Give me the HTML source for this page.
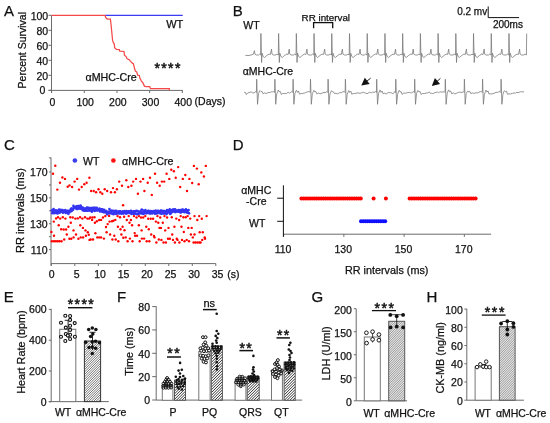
<!DOCTYPE html>
<html><head><meta charset="utf-8"><style>
html,body{margin:0;padding:0;background:#fff;width:550px;height:423px;overflow:hidden}
svg{display:block;will-change:transform}
text{font-family:"Liberation Sans",sans-serif;stroke:#111;stroke-width:0.25px}
</style></head><body>
<svg width="550" height="423" viewBox="0 0 550 423" font-family="Liberation Sans, sans-serif">

<rect width="550" height="423" fill="#fff"/>
<text x="4" y="15.8" font-size="15" fill="#111" >A</text>
<line x1="51.5" y1="15.3" x2="51.5" y2="92.8" stroke="#6b6b6b" stroke-width="1"/>
<line x1="48.5" y1="15.3" x2="51.5" y2="15.3" stroke="#6b6b6b" stroke-width="1"/>
<text x="48.2" y="19.8" font-size="10.5" text-anchor="end" fill="#111" >100</text>
<line x1="48.5" y1="30.3" x2="51.5" y2="30.3" stroke="#6b6b6b" stroke-width="1"/>
<text x="48.2" y="34.8" font-size="10.5" text-anchor="end" fill="#111" >80</text>
<line x1="48.5" y1="45.3" x2="51.5" y2="45.3" stroke="#6b6b6b" stroke-width="1"/>
<text x="48.2" y="49.8" font-size="10.5" text-anchor="end" fill="#111" >60</text>
<line x1="48.5" y1="60.3" x2="51.5" y2="60.3" stroke="#6b6b6b" stroke-width="1"/>
<text x="48.2" y="64.8" font-size="10.5" text-anchor="end" fill="#111" >40</text>
<line x1="48.5" y1="75.3" x2="51.5" y2="75.3" stroke="#6b6b6b" stroke-width="1"/>
<text x="48.2" y="79.8" font-size="10.5" text-anchor="end" fill="#111" >20</text>
<line x1="48.5" y1="90.3" x2="51.5" y2="90.3" stroke="#6b6b6b" stroke-width="1"/>
<text x="45.3" y="93.9" font-size="10.5" text-anchor="end" fill="#111" >0</text>
<line x1="48.5" y1="90.4" x2="182.8" y2="90.4" stroke="#6b6b6b" stroke-width="1"/>
<line x1="51.6" y1="90.4" x2="51.6" y2="93" stroke="#6b6b6b" stroke-width="1"/>
<text x="52.5" y="105.5" font-size="10.5" text-anchor="middle" fill="#111" >0</text>
<line x1="84.28" y1="90.4" x2="84.28" y2="93" stroke="#6b6b6b" stroke-width="1"/>
<text x="85.18" y="105.5" font-size="10.5" text-anchor="middle" fill="#111" >100</text>
<line x1="116.96" y1="90.4" x2="116.96" y2="93" stroke="#6b6b6b" stroke-width="1"/>
<text x="117.86" y="105.5" font-size="10.5" text-anchor="middle" fill="#111" >200</text>
<line x1="149.64" y1="90.4" x2="149.64" y2="93" stroke="#6b6b6b" stroke-width="1"/>
<text x="150.54" y="105.5" font-size="10.5" text-anchor="middle" fill="#111" >300</text>
<line x1="182.32" y1="90.4" x2="182.32" y2="93" stroke="#6b6b6b" stroke-width="1"/>
<text x="183.22" y="105.5" font-size="10.5" text-anchor="middle" fill="#111" >400</text>
<text x="194.6" y="104.9" font-size="10.5" fill="#111" >(Days)</text>
<text transform="translate(26.2,50.2) rotate(-90)" font-size="10.5" text-anchor="middle" fill="#111">Percent Survival</text>
<line x1="105.2" y1="15.35" x2="182.7" y2="15.35" stroke="#3b3bf5" stroke-width="1.2"/>
<path d="M51.6,15.35 L105,15.35 L105.4,16.8 L106.6,18.7 L108,19.1 L110.4,19.1 L110.9,23.3 L112.6,40.4 L113.3,42.4 L114.4,44.5 L114.6,47.7 L116.5,49.5 L119.3,49.7 L119.8,51.2 L124,51.5 L124.5,55.1 L126.1,56.6 L127.1,58.7 L129.3,59.8 L130.4,61.1 L132.6,63.4 L133.4,63.8 L134.5,68.3 L135.3,71 L136.8,72.1 L137.6,75.1 L139.4,75.5 L139.8,78.1 L141.3,80.8 L142.8,82.7 L144.4,86.1 L145.9,86.5 L149.7,86.5 L150.4,88.5 L169.4,88.5 L169.4,90.2" stroke="#f54848" stroke-width="1.25" fill="none" />
<text x="166.2" y="27.5" font-size="11" fill="#111" >WT</text>
<text x="85.5" y="80.7" font-size="10.7" fill="#111" >αMHC-Cre</text>
<text x="154.4" y="73.1" font-size="14" fill="#111" letter-spacing="1.4" style="stroke-width:0.5px">****</text>
<text x="232.8" y="15.9" font-size="15" fill="#111" >B</text>
<text x="243.3" y="28.8" font-size="10.5" fill="#111" >WT</text>
<text x="301.6" y="20.5" font-size="9.8" fill="#111" >RR interval</text>
<path d="M313.6,28.2 V22.7 H332.7 V28.2" stroke="#111" stroke-width="1.3" fill="none" />
<text x="457.2" y="14.5" font-size="10" fill="#111" >0.2 mv</text>
<path d="M488.2,6.4 V17.6 H519.1" stroke="#111" stroke-width="1" fill="none" />
<text x="492.9" y="28.2" font-size="10" fill="#111" >200ms</text>
<text x="242.8" y="74.9" font-size="10.5" fill="#111" >αMHC-Cre</text>
<path d="M245.4,55.3 L248,55.6 L251,55 L253.3,54.3 L254.4,50.6 L255,54.3 L256.5,55 L258.5,55 L259.4,54.2 L260.6,55 L260.9,33.5 L261.6,62.5 L262.1,53.2 L263.2,56.5 L264.5,57.5 L266.9,55.4 L269,54.1 L270.4,54.5 L271.5,49.1 L272,54.1 L273.5,55 L275.8,55 L277.1,54.1 L277.12,54.2 L278.32,55 L278.62,33.5 L279.32,62.5 L279.82,53.2 L280.92,56.5 L282.22,57.5 L284.62,55.4 L286.72,54.1 L288.12,54.5 L289.22,49.1 L289.72,54.1 L291.22,55 L293.52,55 L294.82,54.1 L294.84,54.2 L296.04,55 L296.34,33.5 L297.04,62.5 L297.54,53.2 L298.64,56.5 L299.94,57.5 L302.34,55.4 L304.44,54.1 L305.84,54.5 L306.94,49.1 L307.44,54.1 L308.94,55 L311.24,55 L312.54,54.1 L312.56,54.2 L313.76,55 L314.06,33.5 L314.76,62.5 L315.26,53.2 L316.36,56.5 L317.66,57.5 L320.06,55.4 L322.16,54.1 L323.56,54.5 L324.66,49.1 L325.16,54.1 L326.66,55 L328.96,55 L330.26,54.1 L330.28,54.2 L331.48,55 L331.78,33.5 L332.48,62.5 L332.98,53.2 L334.08,56.5 L335.38,57.5 L337.78,55.4 L339.88,54.1 L341.28,54.5 L342.38,49.1 L342.88,54.1 L344.38,55 L346.68,55 L347.98,54.1 L348,54.2 L349.2,55 L349.5,33.5 L350.2,62.5 L350.7,53.2 L351.8,56.5 L353.1,57.5 L355.5,55.4 L357.6,54.1 L359,54.5 L360.1,49.1 L360.6,54.1 L362.1,55 L364.4,55 L365.7,54.1 L365.72,54.2 L366.92,55 L367.22,33.5 L367.92,62.5 L368.42,53.2 L369.52,56.5 L370.82,57.5 L373.22,55.4 L375.32,54.1 L376.72,54.5 L377.82,49.1 L378.32,54.1 L379.82,55 L382.12,55 L383.42,54.1 L383.44,54.2 L384.64,55 L384.94,33.5 L385.64,62.5 L386.14,53.2 L387.24,56.5 L388.54,57.5 L390.94,55.4 L393.04,54.1 L394.44,54.5 L395.54,49.1 L396.04,54.1 L397.54,55 L399.84,55 L401.14,54.1 L401.16,54.2 L402.36,55 L402.66,33.5 L403.36,62.5 L403.86,53.2 L404.96,56.5 L406.26,57.5 L408.66,55.4 L410.76,54.1 L412.16,54.5 L413.26,49.1 L413.76,54.1 L415.26,55 L417.56,55 L418.86,54.1 L418.88,54.2 L420.08,55 L420.38,33.5 L421.08,62.5 L421.58,53.2 L422.68,56.5 L423.98,57.5 L426.38,55.4 L428.48,54.1 L429.88,54.5 L430.98,49.1 L431.48,54.1 L432.98,55 L435.28,55 L436.58,54.1 L436.6,54.2 L437.8,55 L438.1,33.5 L438.8,62.5 L439.3,53.2 L440.4,56.5 L441.7,57.5 L444.1,55.4 L446.2,54.1 L447.6,54.5 L448.7,49.1 L449.2,54.1 L450.7,55 L453,55 L454.3,54.1 L454.32,54.2 L455.52,55 L455.82,33.5 L456.52,62.5 L457.02,53.2 L458.12,56.5 L459.42,57.5 L461.82,55.4 L463.92,54.1 L465.32,54.5 L466.42,49.1 L466.92,54.1 L468.42,55 L470.72,55 L472.02,54.1 L472.04,54.2 L473.24,55 L473.54,33.5 L474.24,62.5 L474.74,53.2 L475.84,56.5 L477.14,57.5 L479.54,55.4 L481.64,54.1 L483.04,54.5 L484.14,49.1 L484.64,54.1 L486.14,55 L488.44,55 L489.74,54.1 L489.76,54.2 L490.96,55 L491.26,33.5 L491.96,62.5 L492.46,53.2 L493.56,56.5 L494.86,57.5 L497.26,55.4 L499.36,54.1 L500.76,54.5 L501.86,49.1 L502.36,54.1 L503.86,55 L506.16,55 L507.46,54.1 L507.48,54.2 L508.68,55 L508.98,33.5 L509.68,62.5 L510.18,53.2 L511.28,56.5 L512.58,57.5 L514.98,55.4 L517.08,54.1 L518.48,54.5 L519.58,49.1 L520.08,54.1 L521.58,55 L523.88,55 L525.18,54.1 L525.2,54.2 L526.4,55 L526.7,33.5" stroke="#7a7a7a" stroke-width="0.8" fill="none" stroke-linejoin="round"/>
<path d="M244.1,92.4 L245.3,92.3 L246.3,94.6 L247.5,93 L249,92.6 L251,91.8 L252.5,92.8 L254,92.9 L255.5,91.7 L256.4,92.5 L256.7,79.2 L257.5,104.3 L258.5,93.82 L259.6,90.95 L260.1,90.55 L261.1,91.67 L262.1,91.44 L263.1,93.87 L264.7,92.86 L266.2,93.61 L268.2,92.54 L270.2,92.53 L271.3,91.84 L272.45,91.88 L273.7,91.6 L274.6,92.5 L274.9,79.2 L275.7,104.3 L276.7,93.92 L277.8,91.63 L278.3,90.02 L279.3,91.82 L280.3,91.53 L281.3,94.45 L282.9,93.38 L284.4,93.5 L286.4,93.48 L288.4,92.15 L289.5,93.42 L290.65,92.28 L291.9,91.6 L292.8,92.5 L293.1,79.2 L293.9,104.3 L294.9,93.64 L296,90.92 L296.5,90.21 L297.5,92.42 L298.5,91.08 L299.5,94.08 L301.1,93.44 L302.6,93.47 L304.6,93.05 L306.6,92.16 L307.7,91.82 L309.3,91.6 L310.2,92.5 L310.5,79.2 L311.3,104.3 L312.3,93.71 L313.4,91.48 L313.9,90.33 L314.9,91.91 L315.9,91.49 L316.9,93.95 L318.5,93.1 L320,93.89 L322,93.2 L324,92.34 L325.1,92.85 L326.9,91.6 L327.8,92.5 L328.1,79.2 L328.9,104.3 L329.9,94.03 L331,91.68 L331.5,90.63 L332.5,91.89 L333.5,91.88 L334.5,93.62 L336.1,93.22 L337.6,93.86 L339.6,92.65 L341.6,92.59 L342.7,91.78 L344.2,91.6 L345.1,92.5 L345.4,79.2 L346.2,104.3 L347.2,94.17 L348.3,91.56 L348.8,90.47 L349.8,92.48 L350.8,91.21 L351.8,94.2 L353.4,93.39 L354.9,93.68 L356.9,92.96 L358.9,92.94 L360,93.59 L361.15,92.65 L362.3,93.03 L363.45,91.82 L364.6,93.1 L365.75,92.99 L366.9,93.69 L368.05,93.34 L369.2,92.27 L370.35,92.47 L371.5,93.04 L372.65,91.75 L373.8,92.62 L375.5,91.6 L376.4,92.5 L376.7,79.2 L377.5,104.3 L378.5,93.67 L379.6,90.92 L380.1,89.96 L381.1,92.37 L382.1,91.03 L383.1,93.75 L384.7,93.19 L386.2,93.97 L388.2,92.58 L390.2,92.55 L391.3,92.8 L392.45,93.47 L393.6,93.34 L394.6,91.6 L395.5,92.5 L395.8,79.2 L396.6,104.3 L397.6,94.36 L398.7,91.08 L399.2,90.32 L400.2,91.96 L401.2,91.78 L402.2,94.46 L403.8,92.95 L405.3,93.28 L407.3,92.73 L409.3,92.33 L410.4,92.67 L411.55,92.88 L413.5,91.6 L414.4,92.5 L414.7,79.2 L415.5,104.3 L416.5,93.76 L417.6,90.8 L418.1,90.32 L419.1,91.97 L420.1,91.47 L421.1,94.45 L422.7,93.49 L424.2,93.62 L426.2,93.12 L428.2,92.78 L429.3,91.81 L430.45,93.5 L431.6,93.26 L432.75,93.45 L433.9,93.3 L435.05,92.48 L436.2,92.5 L437.35,91.91 L438.5,92.97 L439.65,91.82 L440.8,91.83 L441.95,92.12 L443.1,92.02 L444.1,91.6 L445,92.5 L445.3,79.2 L446.1,104.3 L447.1,93.84 L448.2,90.85 L448.7,89.9 L449.7,91.75 L450.7,91 L451.7,93.86 L453.3,92.83 L454.8,93.97 L456.8,93.11 L458.8,92.25 L459.9,92.2 L461.05,92.39 L462.2,92.43 L463.2,91.6 L464.1,92.5 L464.4,79.2 L465.2,104.3 L466.2,93.62 L467.3,91.65 L467.8,90.89 L468.8,92.07 L469.8,91.38 L470.8,93.59 L472.4,92.9 L473.9,93.44 L475.9,92.76 L477.9,92.93 L479,92.02 L480.15,91.75 L481.4,91.6 L482.3,92.5 L482.6,79.2 L483.4,104.3 L484.4,94.45 L485.5,91.33 L486,90.05 L487,92.14 L488,90.93 L489,94.03 L490.6,93.78 L492.1,93.96 L494.1,93.2 L496.1,92.36 L497.2,92.43 L498.35,92.03 L499.9,91.6 L500.8,92.5 L501.1,79.2 L501.9,104.3 L502.9,94.27 L504,91.33 L504.5,90.68 L505.5,91.93 L506.5,91.12 L507.5,94.31 L509.1,93.78 L510.6,93.95 L512.6,93.31 L514.6,92.92 L515.7,93.18 L516.85,92.15 L518,92.74 L519.15,92.41 L520.3,91.76 L521.45,91.76 L524,91.9" stroke="#7a7a7a" stroke-width="0.8" fill="none" stroke-linejoin="round"/>
<line x1="370.6" y1="78.2" x2="365.95" y2="81.9" stroke="#222" stroke-width="1.0"/>
<path d="M361.3,85.6 L369.68,83.92 L364.82,77.82 Z" fill="#111"/>
<line x1="440.4" y1="78.4" x2="436.1" y2="82.2" stroke="#222" stroke-width="1.0"/>
<path d="M431.8,86 L440.08,83.89 L434.91,78.04 Z" fill="#111"/>
<text x="3.9" y="149.6" font-size="15" fill="#111" >C</text>
<line x1="51" y1="157.5" x2="51" y2="265.5" stroke="#6b6b6b" stroke-width="1"/>
<line x1="49" y1="157.9" x2="51" y2="157.9" stroke="#6b6b6b" stroke-width="1"/>
<line x1="49" y1="172" x2="51" y2="172" stroke="#6b6b6b" stroke-width="1"/>
<line x1="49" y1="184.94" x2="51" y2="184.94" stroke="#6b6b6b" stroke-width="1"/>
<line x1="49" y1="197.87" x2="51" y2="197.87" stroke="#6b6b6b" stroke-width="1"/>
<line x1="49" y1="210.8" x2="51" y2="210.8" stroke="#6b6b6b" stroke-width="1"/>
<line x1="49" y1="223.73" x2="51" y2="223.73" stroke="#6b6b6b" stroke-width="1"/>
<line x1="49" y1="236.67" x2="51" y2="236.67" stroke="#6b6b6b" stroke-width="1"/>
<line x1="49" y1="249.6" x2="51" y2="249.6" stroke="#6b6b6b" stroke-width="1"/>
<text x="47.6" y="176.4" font-size="10.5" text-anchor="end" fill="#111" >170</text>
<text x="47.6" y="202.27" font-size="10.5" text-anchor="end" fill="#111" >150</text>
<text x="47.6" y="228.13" font-size="10.5" text-anchor="end" fill="#111" >130</text>
<text x="47.6" y="254" font-size="10.5" text-anchor="end" fill="#111" >110</text>
<line x1="51" y1="263.6" x2="215.8" y2="263.6" stroke="#6b6b6b" stroke-width="1"/>
<line x1="51.3" y1="263.6" x2="51.3" y2="266" stroke="#6b6b6b" stroke-width="1"/>
<text x="51.6" y="277.6" font-size="10.5" text-anchor="middle" fill="#111" >0</text>
<line x1="74.8" y1="263.6" x2="74.8" y2="266" stroke="#6b6b6b" stroke-width="1"/>
<text x="76.6" y="277.6" font-size="10.5" text-anchor="middle" fill="#111" >5</text>
<line x1="98.3" y1="263.6" x2="98.3" y2="266" stroke="#6b6b6b" stroke-width="1"/>
<text x="100.1" y="277.6" font-size="10.5" text-anchor="middle" fill="#111" >10</text>
<line x1="121.8" y1="263.6" x2="121.8" y2="266" stroke="#6b6b6b" stroke-width="1"/>
<text x="123.6" y="277.6" font-size="10.5" text-anchor="middle" fill="#111" >15</text>
<line x1="145.3" y1="263.6" x2="145.3" y2="266" stroke="#6b6b6b" stroke-width="1"/>
<text x="147.1" y="277.6" font-size="10.5" text-anchor="middle" fill="#111" >20</text>
<line x1="168.8" y1="263.6" x2="168.8" y2="266" stroke="#6b6b6b" stroke-width="1"/>
<text x="170.6" y="277.6" font-size="10.5" text-anchor="middle" fill="#111" >25</text>
<line x1="192.3" y1="263.6" x2="192.3" y2="266" stroke="#6b6b6b" stroke-width="1"/>
<text x="194.1" y="277.6" font-size="10.5" text-anchor="middle" fill="#111" >30</text>
<line x1="215.8" y1="263.6" x2="215.8" y2="266" stroke="#6b6b6b" stroke-width="1"/>
<text x="217.6" y="277.6" font-size="10.5" text-anchor="middle" fill="#111" >35</text>
<text x="227.3" y="277.6" font-size="10.5" fill="#111" >(s)</text>
<text transform="translate(24,210.6) rotate(-90)" font-size="11" text-anchor="middle" fill="#111">RR intervals (ms)</text>
<circle cx="74.9" cy="160.5" r="2.3" fill="#3c3cf0"/>
<text x="83" y="164.6" font-size="10.5" fill="#111" >WT</text>
<circle cx="113.4" cy="160.5" r="2.3" fill="#ff1010"/>
<text x="122.1" y="164.6" font-size="10.7" fill="#111" >αMHC-Cre</text>
<circle cx="51.8" cy="210.5" r="1.3" fill="#3535f2"/>
<circle cx="52.25" cy="213.13" r="1.3" fill="#3535f2"/>
<circle cx="52.7" cy="209.98" r="1.3" fill="#3535f2"/>
<circle cx="53.15" cy="210.96" r="1.3" fill="#3535f2"/>
<circle cx="53.6" cy="209.04" r="1.3" fill="#3535f2"/>
<circle cx="54.05" cy="213.14" r="1.3" fill="#3535f2"/>
<circle cx="54.5" cy="212.34" r="1.3" fill="#3535f2"/>
<circle cx="54.95" cy="212.47" r="1.3" fill="#3535f2"/>
<circle cx="55.4" cy="210.27" r="1.3" fill="#3535f2"/>
<circle cx="55.85" cy="212.97" r="1.3" fill="#3535f2"/>
<circle cx="56.3" cy="210.67" r="1.3" fill="#3535f2"/>
<circle cx="56.75" cy="213.06" r="1.3" fill="#3535f2"/>
<circle cx="57.2" cy="210.88" r="1.3" fill="#3535f2"/>
<circle cx="57.65" cy="213.54" r="1.3" fill="#3535f2"/>
<circle cx="58.1" cy="211.69" r="1.3" fill="#3535f2"/>
<circle cx="58.55" cy="211.81" r="1.3" fill="#3535f2"/>
<circle cx="59" cy="209.59" r="1.3" fill="#3535f2"/>
<circle cx="59.45" cy="212.73" r="1.3" fill="#3535f2"/>
<circle cx="59.9" cy="210.69" r="1.3" fill="#3535f2"/>
<circle cx="60.35" cy="212.32" r="1.3" fill="#3535f2"/>
<circle cx="60.8" cy="209.78" r="1.3" fill="#3535f2"/>
<circle cx="61.25" cy="211.3" r="1.3" fill="#3535f2"/>
<circle cx="61.7" cy="210.83" r="1.3" fill="#3535f2"/>
<circle cx="62.15" cy="211.46" r="1.3" fill="#3535f2"/>
<circle cx="62.6" cy="210.17" r="1.3" fill="#3535f2"/>
<circle cx="63.05" cy="212.66" r="1.3" fill="#3535f2"/>
<circle cx="63.5" cy="210.75" r="1.3" fill="#3535f2"/>
<circle cx="63.95" cy="211.99" r="1.3" fill="#3535f2"/>
<circle cx="64.4" cy="211.19" r="1.3" fill="#3535f2"/>
<circle cx="64.85" cy="210.83" r="1.3" fill="#3535f2"/>
<circle cx="65.3" cy="210.04" r="1.3" fill="#3535f2"/>
<circle cx="65.75" cy="213.03" r="1.3" fill="#3535f2"/>
<circle cx="66.2" cy="211.66" r="1.3" fill="#3535f2"/>
<circle cx="66.65" cy="212.23" r="1.3" fill="#3535f2"/>
<circle cx="67.1" cy="210.78" r="1.3" fill="#3535f2"/>
<circle cx="67.55" cy="212.92" r="1.3" fill="#3535f2"/>
<circle cx="68" cy="211.48" r="1.3" fill="#3535f2"/>
<circle cx="68.45" cy="213.83" r="1.3" fill="#3535f2"/>
<circle cx="68.9" cy="210.74" r="1.3" fill="#3535f2"/>
<circle cx="69.35" cy="212.23" r="1.3" fill="#3535f2"/>
<circle cx="69.8" cy="211.51" r="1.3" fill="#3535f2"/>
<circle cx="70.25" cy="210.86" r="1.3" fill="#3535f2"/>
<circle cx="70.7" cy="209.4" r="1.3" fill="#3535f2"/>
<circle cx="71.15" cy="211.22" r="1.3" fill="#3535f2"/>
<circle cx="71.6" cy="208.33" r="1.3" fill="#3535f2"/>
<circle cx="72.05" cy="210.57" r="1.3" fill="#3535f2"/>
<circle cx="72.5" cy="209.45" r="1.3" fill="#3535f2"/>
<circle cx="72.95" cy="209.77" r="1.3" fill="#3535f2"/>
<circle cx="73.4" cy="205.9" r="1.3" fill="#3535f2"/>
<circle cx="73.85" cy="207.71" r="1.3" fill="#3535f2"/>
<circle cx="74.3" cy="207.08" r="1.3" fill="#3535f2"/>
<circle cx="74.75" cy="208.1" r="1.3" fill="#3535f2"/>
<circle cx="75.2" cy="207.31" r="1.3" fill="#3535f2"/>
<circle cx="75.65" cy="207.46" r="1.3" fill="#3535f2"/>
<circle cx="76.1" cy="206.53" r="1.3" fill="#3535f2"/>
<circle cx="76.55" cy="208.92" r="1.3" fill="#3535f2"/>
<circle cx="77" cy="206.26" r="1.3" fill="#3535f2"/>
<circle cx="77.45" cy="208.9" r="1.3" fill="#3535f2"/>
<circle cx="77.9" cy="205.94" r="1.3" fill="#3535f2"/>
<circle cx="78.35" cy="208.12" r="1.3" fill="#3535f2"/>
<circle cx="78.8" cy="206.08" r="1.3" fill="#3535f2"/>
<circle cx="79.25" cy="208.58" r="1.3" fill="#3535f2"/>
<circle cx="79.7" cy="206.95" r="1.3" fill="#3535f2"/>
<circle cx="80.15" cy="208.05" r="1.3" fill="#3535f2"/>
<circle cx="80.6" cy="205.51" r="1.3" fill="#3535f2"/>
<circle cx="81.05" cy="208.64" r="1.3" fill="#3535f2"/>
<circle cx="81.5" cy="207" r="1.3" fill="#3535f2"/>
<circle cx="81.95" cy="207.99" r="1.3" fill="#3535f2"/>
<circle cx="82.4" cy="209.32" r="1.3" fill="#3535f2"/>
<circle cx="82.85" cy="210.19" r="1.3" fill="#3535f2"/>
<circle cx="83.3" cy="207.76" r="1.3" fill="#3535f2"/>
<circle cx="83.75" cy="210.43" r="1.3" fill="#3535f2"/>
<circle cx="84.2" cy="209.35" r="1.3" fill="#3535f2"/>
<circle cx="84.65" cy="210.69" r="1.3" fill="#3535f2"/>
<circle cx="85.1" cy="208.63" r="1.3" fill="#3535f2"/>
<circle cx="85.55" cy="210.66" r="1.3" fill="#3535f2"/>
<circle cx="86" cy="208.73" r="1.3" fill="#3535f2"/>
<circle cx="86.45" cy="210.19" r="1.3" fill="#3535f2"/>
<circle cx="86.9" cy="207.49" r="1.3" fill="#3535f2"/>
<circle cx="87.35" cy="210.79" r="1.3" fill="#3535f2"/>
<circle cx="87.8" cy="208.02" r="1.3" fill="#3535f2"/>
<circle cx="88.25" cy="210.38" r="1.3" fill="#3535f2"/>
<circle cx="88.7" cy="207.71" r="1.3" fill="#3535f2"/>
<circle cx="89.15" cy="210.5" r="1.3" fill="#3535f2"/>
<circle cx="89.6" cy="208.67" r="1.3" fill="#3535f2"/>
<circle cx="90.05" cy="210.28" r="1.3" fill="#3535f2"/>
<circle cx="90.5" cy="208.11" r="1.3" fill="#3535f2"/>
<circle cx="90.95" cy="210.4" r="1.3" fill="#3535f2"/>
<circle cx="91.4" cy="208.4" r="1.3" fill="#3535f2"/>
<circle cx="91.85" cy="211.79" r="1.3" fill="#3535f2"/>
<circle cx="92.3" cy="207.7" r="1.3" fill="#3535f2"/>
<circle cx="92.75" cy="210.56" r="1.3" fill="#3535f2"/>
<circle cx="93.2" cy="208.7" r="1.3" fill="#3535f2"/>
<circle cx="93.65" cy="209.06" r="1.3" fill="#3535f2"/>
<circle cx="94.1" cy="207.7" r="1.3" fill="#3535f2"/>
<circle cx="94.55" cy="210.94" r="1.3" fill="#3535f2"/>
<circle cx="95" cy="207.76" r="1.3" fill="#3535f2"/>
<circle cx="95.45" cy="210.57" r="1.3" fill="#3535f2"/>
<circle cx="95.9" cy="208.33" r="1.3" fill="#3535f2"/>
<circle cx="96.35" cy="209.88" r="1.3" fill="#3535f2"/>
<circle cx="96.8" cy="207.82" r="1.3" fill="#3535f2"/>
<circle cx="97.25" cy="210.43" r="1.3" fill="#3535f2"/>
<circle cx="97.7" cy="209.61" r="1.3" fill="#3535f2"/>
<circle cx="98.15" cy="210.21" r="1.3" fill="#3535f2"/>
<circle cx="98.6" cy="209.79" r="1.3" fill="#3535f2"/>
<circle cx="99.05" cy="209.43" r="1.3" fill="#3535f2"/>
<circle cx="99.5" cy="208.55" r="1.3" fill="#3535f2"/>
<circle cx="99.95" cy="211.49" r="1.3" fill="#3535f2"/>
<circle cx="100.4" cy="210.03" r="1.3" fill="#3535f2"/>
<circle cx="100.85" cy="210.3" r="1.3" fill="#3535f2"/>
<circle cx="101.3" cy="209.39" r="1.3" fill="#3535f2"/>
<circle cx="101.75" cy="211.43" r="1.3" fill="#3535f2"/>
<circle cx="102.2" cy="209.29" r="1.3" fill="#3535f2"/>
<circle cx="102.65" cy="211.64" r="1.3" fill="#3535f2"/>
<circle cx="103.1" cy="209.95" r="1.3" fill="#3535f2"/>
<circle cx="103.55" cy="212.21" r="1.3" fill="#3535f2"/>
<circle cx="104" cy="209.73" r="1.3" fill="#3535f2"/>
<circle cx="104.45" cy="211.25" r="1.3" fill="#3535f2"/>
<circle cx="104.9" cy="211.03" r="1.3" fill="#3535f2"/>
<circle cx="105.35" cy="212.46" r="1.3" fill="#3535f2"/>
<circle cx="105.8" cy="210.88" r="1.3" fill="#3535f2"/>
<circle cx="106.25" cy="212.09" r="1.3" fill="#3535f2"/>
<circle cx="106.7" cy="212.1" r="1.3" fill="#3535f2"/>
<circle cx="107.15" cy="214.33" r="1.3" fill="#3535f2"/>
<circle cx="107.6" cy="211.68" r="1.3" fill="#3535f2"/>
<circle cx="108.05" cy="213.1" r="1.3" fill="#3535f2"/>
<circle cx="108.5" cy="211.87" r="1.3" fill="#3535f2"/>
<circle cx="108.95" cy="212.99" r="1.3" fill="#3535f2"/>
<circle cx="109.4" cy="209.09" r="1.3" fill="#3535f2"/>
<circle cx="109.85" cy="213.37" r="1.3" fill="#3535f2"/>
<circle cx="110.3" cy="211.41" r="1.3" fill="#3535f2"/>
<circle cx="110.75" cy="212.84" r="1.3" fill="#3535f2"/>
<circle cx="111.2" cy="210.43" r="1.3" fill="#3535f2"/>
<circle cx="111.65" cy="213.55" r="1.3" fill="#3535f2"/>
<circle cx="112.1" cy="210.95" r="1.3" fill="#3535f2"/>
<circle cx="112.55" cy="213.59" r="1.3" fill="#3535f2"/>
<circle cx="113" cy="210.73" r="1.3" fill="#3535f2"/>
<circle cx="113.45" cy="214.22" r="1.3" fill="#3535f2"/>
<circle cx="113.9" cy="212.08" r="1.3" fill="#3535f2"/>
<circle cx="114.35" cy="213.31" r="1.3" fill="#3535f2"/>
<circle cx="114.8" cy="211.08" r="1.3" fill="#3535f2"/>
<circle cx="115.25" cy="213.25" r="1.3" fill="#3535f2"/>
<circle cx="115.7" cy="210.72" r="1.3" fill="#3535f2"/>
<circle cx="116.15" cy="214.05" r="1.3" fill="#3535f2"/>
<circle cx="116.6" cy="210.95" r="1.3" fill="#3535f2"/>
<circle cx="117.05" cy="213.18" r="1.3" fill="#3535f2"/>
<circle cx="117.5" cy="212.43" r="1.3" fill="#3535f2"/>
<circle cx="117.95" cy="213.08" r="1.3" fill="#3535f2"/>
<circle cx="118.4" cy="211.52" r="1.3" fill="#3535f2"/>
<circle cx="118.85" cy="213.14" r="1.3" fill="#3535f2"/>
<circle cx="119.3" cy="211.18" r="1.3" fill="#3535f2"/>
<circle cx="119.75" cy="213.4" r="1.3" fill="#3535f2"/>
<circle cx="120.2" cy="211.3" r="1.3" fill="#3535f2"/>
<circle cx="120.65" cy="212.65" r="1.3" fill="#3535f2"/>
<circle cx="121.1" cy="211.7" r="1.3" fill="#3535f2"/>
<circle cx="121.55" cy="213.73" r="1.3" fill="#3535f2"/>
<circle cx="122" cy="212.3" r="1.3" fill="#3535f2"/>
<circle cx="122.45" cy="212.52" r="1.3" fill="#3535f2"/>
<circle cx="122.9" cy="211.18" r="1.3" fill="#3535f2"/>
<circle cx="123.35" cy="213.6" r="1.3" fill="#3535f2"/>
<circle cx="123.8" cy="212" r="1.3" fill="#3535f2"/>
<circle cx="124.25" cy="212.76" r="1.3" fill="#3535f2"/>
<circle cx="124.7" cy="211.11" r="1.3" fill="#3535f2"/>
<circle cx="125.15" cy="212.91" r="1.3" fill="#3535f2"/>
<circle cx="125.6" cy="212.2" r="1.3" fill="#3535f2"/>
<circle cx="126.05" cy="213.58" r="1.3" fill="#3535f2"/>
<circle cx="126.5" cy="210.96" r="1.3" fill="#3535f2"/>
<circle cx="126.95" cy="213.32" r="1.3" fill="#3535f2"/>
<circle cx="127.4" cy="212.12" r="1.3" fill="#3535f2"/>
<circle cx="127.85" cy="212.82" r="1.3" fill="#3535f2"/>
<circle cx="128.3" cy="211.29" r="1.3" fill="#3535f2"/>
<circle cx="128.75" cy="212.92" r="1.3" fill="#3535f2"/>
<circle cx="129.2" cy="211.36" r="1.3" fill="#3535f2"/>
<circle cx="129.65" cy="213" r="1.3" fill="#3535f2"/>
<circle cx="130.1" cy="211.7" r="1.3" fill="#3535f2"/>
<circle cx="130.55" cy="212.62" r="1.3" fill="#3535f2"/>
<circle cx="131" cy="210.73" r="1.3" fill="#3535f2"/>
<circle cx="131.45" cy="213.95" r="1.3" fill="#3535f2"/>
<circle cx="131.9" cy="211.7" r="1.3" fill="#3535f2"/>
<circle cx="132.35" cy="212.95" r="1.3" fill="#3535f2"/>
<circle cx="132.8" cy="211.79" r="1.3" fill="#3535f2"/>
<circle cx="133.25" cy="213.82" r="1.3" fill="#3535f2"/>
<circle cx="133.7" cy="211.22" r="1.3" fill="#3535f2"/>
<circle cx="134.15" cy="213.54" r="1.3" fill="#3535f2"/>
<circle cx="134.6" cy="211.32" r="1.3" fill="#3535f2"/>
<circle cx="135.05" cy="213.39" r="1.3" fill="#3535f2"/>
<circle cx="135.5" cy="211.38" r="1.3" fill="#3535f2"/>
<circle cx="135.95" cy="213.78" r="1.3" fill="#3535f2"/>
<circle cx="136.4" cy="210.8" r="1.3" fill="#3535f2"/>
<circle cx="136.85" cy="214.31" r="1.3" fill="#3535f2"/>
<circle cx="137.3" cy="211" r="1.3" fill="#3535f2"/>
<circle cx="137.75" cy="214" r="1.3" fill="#3535f2"/>
<circle cx="138.2" cy="211.48" r="1.3" fill="#3535f2"/>
<circle cx="138.65" cy="213.78" r="1.3" fill="#3535f2"/>
<circle cx="139.1" cy="211.73" r="1.3" fill="#3535f2"/>
<circle cx="139.55" cy="213.26" r="1.3" fill="#3535f2"/>
<circle cx="140" cy="212.33" r="1.3" fill="#3535f2"/>
<circle cx="140.45" cy="213.31" r="1.3" fill="#3535f2"/>
<circle cx="140.9" cy="210.77" r="1.3" fill="#3535f2"/>
<circle cx="141.35" cy="213.06" r="1.3" fill="#3535f2"/>
<circle cx="141.8" cy="209.59" r="1.3" fill="#3535f2"/>
<circle cx="142.25" cy="213.46" r="1.3" fill="#3535f2"/>
<circle cx="142.7" cy="212.22" r="1.3" fill="#3535f2"/>
<circle cx="143.15" cy="214" r="1.3" fill="#3535f2"/>
<circle cx="143.6" cy="210.45" r="1.3" fill="#3535f2"/>
<circle cx="144.05" cy="213.54" r="1.3" fill="#3535f2"/>
<circle cx="144.5" cy="211.55" r="1.3" fill="#3535f2"/>
<circle cx="144.95" cy="212.6" r="1.3" fill="#3535f2"/>
<circle cx="145.4" cy="210.13" r="1.3" fill="#3535f2"/>
<circle cx="145.85" cy="213.16" r="1.3" fill="#3535f2"/>
<circle cx="146.3" cy="211.84" r="1.3" fill="#3535f2"/>
<circle cx="146.75" cy="213.13" r="1.3" fill="#3535f2"/>
<circle cx="147.2" cy="211.74" r="1.3" fill="#3535f2"/>
<circle cx="147.65" cy="212.25" r="1.3" fill="#3535f2"/>
<circle cx="148.1" cy="210.73" r="1.3" fill="#3535f2"/>
<circle cx="148.55" cy="212.66" r="1.3" fill="#3535f2"/>
<circle cx="149" cy="211.07" r="1.3" fill="#3535f2"/>
<circle cx="149.45" cy="213.39" r="1.3" fill="#3535f2"/>
<circle cx="149.9" cy="211.38" r="1.3" fill="#3535f2"/>
<circle cx="150.35" cy="213.4" r="1.3" fill="#3535f2"/>
<circle cx="150.8" cy="211.17" r="1.3" fill="#3535f2"/>
<circle cx="151.25" cy="212.66" r="1.3" fill="#3535f2"/>
<circle cx="151.7" cy="211.35" r="1.3" fill="#3535f2"/>
<circle cx="152.15" cy="213.45" r="1.3" fill="#3535f2"/>
<circle cx="152.6" cy="211.97" r="1.3" fill="#3535f2"/>
<circle cx="153.05" cy="212.01" r="1.3" fill="#3535f2"/>
<circle cx="153.5" cy="210.93" r="1.3" fill="#3535f2"/>
<circle cx="153.95" cy="212.7" r="1.3" fill="#3535f2"/>
<circle cx="154.4" cy="211.23" r="1.3" fill="#3535f2"/>
<circle cx="154.85" cy="213.78" r="1.3" fill="#3535f2"/>
<circle cx="155.3" cy="210.8" r="1.3" fill="#3535f2"/>
<circle cx="155.75" cy="213.3" r="1.3" fill="#3535f2"/>
<circle cx="156.2" cy="210.68" r="1.3" fill="#3535f2"/>
<circle cx="156.65" cy="213.38" r="1.3" fill="#3535f2"/>
<circle cx="157.1" cy="213.02" r="1.3" fill="#3535f2"/>
<circle cx="157.55" cy="212.75" r="1.3" fill="#3535f2"/>
<circle cx="158" cy="210.7" r="1.3" fill="#3535f2"/>
<circle cx="158.45" cy="213.05" r="1.3" fill="#3535f2"/>
<circle cx="158.9" cy="211.79" r="1.3" fill="#3535f2"/>
<circle cx="159.35" cy="213.07" r="1.3" fill="#3535f2"/>
<circle cx="159.8" cy="211.18" r="1.3" fill="#3535f2"/>
<circle cx="160.25" cy="213.23" r="1.3" fill="#3535f2"/>
<circle cx="160.7" cy="210.62" r="1.3" fill="#3535f2"/>
<circle cx="161.15" cy="213.74" r="1.3" fill="#3535f2"/>
<circle cx="161.6" cy="210.73" r="1.3" fill="#3535f2"/>
<circle cx="162.05" cy="213.19" r="1.3" fill="#3535f2"/>
<circle cx="162.5" cy="211.13" r="1.3" fill="#3535f2"/>
<circle cx="162.95" cy="213.2" r="1.3" fill="#3535f2"/>
<circle cx="163.4" cy="211.17" r="1.3" fill="#3535f2"/>
<circle cx="163.85" cy="213.5" r="1.3" fill="#3535f2"/>
<circle cx="164.3" cy="211.04" r="1.3" fill="#3535f2"/>
<circle cx="164.75" cy="213.32" r="1.3" fill="#3535f2"/>
<circle cx="165.2" cy="211.79" r="1.3" fill="#3535f2"/>
<circle cx="165.65" cy="213.28" r="1.3" fill="#3535f2"/>
<circle cx="166.1" cy="211.3" r="1.3" fill="#3535f2"/>
<circle cx="166.55" cy="214.12" r="1.3" fill="#3535f2"/>
<circle cx="167" cy="210.05" r="1.3" fill="#3535f2"/>
<circle cx="167.45" cy="212.99" r="1.3" fill="#3535f2"/>
<circle cx="167.9" cy="210.59" r="1.3" fill="#3535f2"/>
<circle cx="168.35" cy="212.27" r="1.3" fill="#3535f2"/>
<circle cx="168.8" cy="210.7" r="1.3" fill="#3535f2"/>
<circle cx="169.25" cy="211.72" r="1.3" fill="#3535f2"/>
<circle cx="169.7" cy="209.27" r="1.3" fill="#3535f2"/>
<circle cx="170.15" cy="214" r="1.3" fill="#3535f2"/>
<circle cx="170.6" cy="210.86" r="1.3" fill="#3535f2"/>
<circle cx="171.05" cy="213.11" r="1.3" fill="#3535f2"/>
<circle cx="171.5" cy="210.07" r="1.3" fill="#3535f2"/>
<circle cx="171.95" cy="212.04" r="1.3" fill="#3535f2"/>
<circle cx="172.4" cy="210.95" r="1.3" fill="#3535f2"/>
<circle cx="172.85" cy="210.93" r="1.3" fill="#3535f2"/>
<circle cx="173.3" cy="209.41" r="1.3" fill="#3535f2"/>
<circle cx="173.75" cy="211.38" r="1.3" fill="#3535f2"/>
<circle cx="174.2" cy="210.35" r="1.3" fill="#3535f2"/>
<circle cx="174.65" cy="211.85" r="1.3" fill="#3535f2"/>
<circle cx="175.1" cy="209.38" r="1.3" fill="#3535f2"/>
<circle cx="175.55" cy="212.08" r="1.3" fill="#3535f2"/>
<circle cx="176" cy="210.84" r="1.3" fill="#3535f2"/>
<circle cx="176.45" cy="211.11" r="1.3" fill="#3535f2"/>
<circle cx="176.9" cy="210.63" r="1.3" fill="#3535f2"/>
<circle cx="177.35" cy="211.38" r="1.3" fill="#3535f2"/>
<circle cx="177.8" cy="211.03" r="1.3" fill="#3535f2"/>
<circle cx="178.25" cy="211.54" r="1.3" fill="#3535f2"/>
<circle cx="178.7" cy="210.02" r="1.3" fill="#3535f2"/>
<circle cx="179.15" cy="211.73" r="1.3" fill="#3535f2"/>
<circle cx="179.6" cy="210.57" r="1.3" fill="#3535f2"/>
<circle cx="180.05" cy="212.27" r="1.3" fill="#3535f2"/>
<circle cx="180.5" cy="209.99" r="1.3" fill="#3535f2"/>
<circle cx="180.95" cy="212.45" r="1.3" fill="#3535f2"/>
<circle cx="181.4" cy="210.66" r="1.3" fill="#3535f2"/>
<circle cx="181.85" cy="211.43" r="1.3" fill="#3535f2"/>
<circle cx="182.3" cy="209.52" r="1.3" fill="#3535f2"/>
<circle cx="182.75" cy="211.49" r="1.3" fill="#3535f2"/>
<circle cx="183.2" cy="209.86" r="1.3" fill="#3535f2"/>
<circle cx="183.65" cy="211.46" r="1.3" fill="#3535f2"/>
<circle cx="184.1" cy="211.45" r="1.3" fill="#3535f2"/>
<circle cx="184.55" cy="212.23" r="1.3" fill="#3535f2"/>
<circle cx="185" cy="210.19" r="1.3" fill="#3535f2"/>
<circle cx="185.45" cy="211.37" r="1.3" fill="#3535f2"/>
<circle cx="185.9" cy="209.2" r="1.3" fill="#3535f2"/>
<circle cx="186.35" cy="211.97" r="1.3" fill="#3535f2"/>
<circle cx="186.8" cy="211.25" r="1.3" fill="#3535f2"/>
<circle cx="187.25" cy="212.66" r="1.3" fill="#3535f2"/>
<circle cx="187.7" cy="210.2" r="1.3" fill="#3535f2"/>
<circle cx="188.15" cy="212.48" r="1.3" fill="#3535f2"/>
<circle cx="188.6" cy="210.09" r="1.3" fill="#3535f2"/>
<circle cx="189.05" cy="213.33" r="1.3" fill="#3535f2"/>
<circle cx="55.3" cy="165.7" r="1.2" fill="#ff0000"/>
<circle cx="53" cy="173.8" r="1.2" fill="#ff0000"/>
<circle cx="62.4" cy="177.5" r="1.2" fill="#ff0000"/>
<circle cx="65" cy="178.9" r="1.2" fill="#ff0000"/>
<circle cx="60" cy="182.8" r="1.2" fill="#ff0000"/>
<circle cx="57.3" cy="189.6" r="1.2" fill="#ff0000"/>
<circle cx="67.7" cy="186.8" r="1.2" fill="#ff0000"/>
<circle cx="69.5" cy="185.4" r="1.2" fill="#ff0000"/>
<circle cx="72.1" cy="187" r="1.2" fill="#ff0000"/>
<circle cx="74.6" cy="181.6" r="1.2" fill="#ff0000"/>
<circle cx="77.2" cy="178.9" r="1.2" fill="#ff0000"/>
<circle cx="79" cy="189.6" r="1.2" fill="#ff0000"/>
<circle cx="81.7" cy="187" r="1.2" fill="#ff0000"/>
<circle cx="84.3" cy="184.2" r="1.2" fill="#ff0000"/>
<circle cx="86.6" cy="182.8" r="1.2" fill="#ff0000"/>
<circle cx="89.4" cy="177.7" r="1.2" fill="#ff0000"/>
<circle cx="91.1" cy="191" r="1.2" fill="#ff0000"/>
<circle cx="93.7" cy="191" r="1.2" fill="#ff0000"/>
<circle cx="96.1" cy="192.2" r="1.2" fill="#ff0000"/>
<circle cx="98.5" cy="189.3" r="1.2" fill="#ff0000"/>
<circle cx="100.3" cy="192.2" r="1.2" fill="#ff0000"/>
<circle cx="102.3" cy="193.7" r="1.2" fill="#ff0000"/>
<circle cx="104.7" cy="189.3" r="1.2" fill="#ff0000"/>
<circle cx="107.2" cy="191" r="1.2" fill="#ff0000"/>
<circle cx="111" cy="192.2" r="1.2" fill="#ff0000"/>
<circle cx="113" cy="188.1" r="1.2" fill="#ff0000"/>
<circle cx="114.9" cy="192.2" r="1.2" fill="#ff0000"/>
<circle cx="116.9" cy="189.3" r="1.2" fill="#ff0000"/>
<circle cx="119.2" cy="181.6" r="1.2" fill="#ff0000"/>
<circle cx="122" cy="185.8" r="1.2" fill="#ff0000"/>
<circle cx="123.1" cy="205.3" r="1.2" fill="#ff0000"/>
<circle cx="126.3" cy="180.3" r="1.2" fill="#ff0000"/>
<circle cx="128.3" cy="187" r="1.2" fill="#ff0000"/>
<circle cx="131.4" cy="185.7" r="1.2" fill="#ff0000"/>
<circle cx="133.2" cy="181.6" r="1.2" fill="#ff0000"/>
<circle cx="136" cy="178.9" r="1.2" fill="#ff0000"/>
<circle cx="137.9" cy="193.7" r="1.2" fill="#ff0000"/>
<circle cx="140.5" cy="181.6" r="1.2" fill="#ff0000"/>
<circle cx="143.1" cy="178.9" r="1.2" fill="#ff0000"/>
<circle cx="144.4" cy="191" r="1.2" fill="#ff0000"/>
<circle cx="147.7" cy="182.8" r="1.2" fill="#ff0000"/>
<circle cx="150" cy="177.7" r="1.2" fill="#ff0000"/>
<circle cx="151.8" cy="194.9" r="1.2" fill="#ff0000"/>
<circle cx="155" cy="173.8" r="1.2" fill="#ff0000"/>
<circle cx="157.1" cy="182.8" r="1.2" fill="#ff0000"/>
<circle cx="159.7" cy="185.7" r="1.2" fill="#ff0000"/>
<circle cx="161.9" cy="181.6" r="1.2" fill="#ff0000"/>
<circle cx="164.2" cy="181.6" r="1.2" fill="#ff0000"/>
<circle cx="166.6" cy="173.8" r="1.2" fill="#ff0000"/>
<circle cx="169.3" cy="178.9" r="1.2" fill="#ff0000"/>
<circle cx="171.3" cy="169.7" r="1.2" fill="#ff0000"/>
<circle cx="173.9" cy="171.2" r="1.2" fill="#ff0000"/>
<circle cx="175.7" cy="177.7" r="1.2" fill="#ff0000"/>
<circle cx="178.2" cy="167.1" r="1.2" fill="#ff0000"/>
<circle cx="180.2" cy="187" r="1.2" fill="#ff0000"/>
<circle cx="182.8" cy="178.9" r="1.2" fill="#ff0000"/>
<circle cx="185.3" cy="175" r="1.2" fill="#ff0000"/>
<circle cx="187" cy="191" r="1.2" fill="#ff0000"/>
<circle cx="189.4" cy="178.9" r="1.2" fill="#ff0000"/>
<circle cx="192.2" cy="183" r="1.2" fill="#ff0000"/>
<circle cx="193.9" cy="165.9" r="1.2" fill="#ff0000"/>
<circle cx="196.9" cy="168.6" r="1.2" fill="#ff0000"/>
<circle cx="198.7" cy="184.2" r="1.2" fill="#ff0000"/>
<circle cx="201.3" cy="172.4" r="1.2" fill="#ff0000"/>
<circle cx="203.9" cy="176.5" r="1.2" fill="#ff0000"/>
<circle cx="205.8" cy="165.9" r="1.2" fill="#ff0000"/>
<circle cx="56.1" cy="218.4" r="1.2" fill="#ff0000"/>
<circle cx="58" cy="217.3" r="1.2" fill="#ff0000"/>
<circle cx="60.2" cy="218.6" r="1.2" fill="#ff0000"/>
<circle cx="62.8" cy="217.3" r="1.2" fill="#ff0000"/>
<circle cx="65.4" cy="218.6" r="1.2" fill="#ff0000"/>
<circle cx="70.3" cy="217.3" r="1.2" fill="#ff0000"/>
<circle cx="72.7" cy="217.5" r="1.2" fill="#ff0000"/>
<circle cx="75.3" cy="218.6" r="1.2" fill="#ff0000"/>
<circle cx="77.7" cy="218.4" r="1.2" fill="#ff0000"/>
<circle cx="80.1" cy="217.3" r="1.2" fill="#ff0000"/>
<circle cx="82.4" cy="218.6" r="1.2" fill="#ff0000"/>
<circle cx="85" cy="217.3" r="1.2" fill="#ff0000"/>
<circle cx="87.4" cy="218.6" r="1.2" fill="#ff0000"/>
<circle cx="89.2" cy="218.6" r="1.2" fill="#ff0000"/>
<circle cx="90.2" cy="217.5" r="1.2" fill="#ff0000"/>
<circle cx="92.4" cy="217.5" r="1.2" fill="#ff0000"/>
<circle cx="94.5" cy="217.3" r="1.2" fill="#ff0000"/>
<circle cx="92.1" cy="219.9" r="1.2" fill="#ff0000"/>
<circle cx="103" cy="217.5" r="1.2" fill="#ff0000"/>
<circle cx="105.3" cy="216.1" r="1.2" fill="#ff0000"/>
<circle cx="109.1" cy="215.9" r="1.2" fill="#ff0000"/>
<circle cx="117.6" cy="216.1" r="1.2" fill="#ff0000"/>
<circle cx="120" cy="217.3" r="1.2" fill="#ff0000"/>
<circle cx="124.1" cy="216.8" r="1.2" fill="#ff0000"/>
<circle cx="128.7" cy="216.1" r="1.2" fill="#ff0000"/>
<circle cx="134" cy="216.1" r="1.2" fill="#ff0000"/>
<circle cx="136.5" cy="217.5" r="1.2" fill="#ff0000"/>
<circle cx="138.9" cy="216.1" r="1.2" fill="#ff0000"/>
<circle cx="141" cy="217.5" r="1.2" fill="#ff0000"/>
<circle cx="143.2" cy="217.5" r="1.2" fill="#ff0000"/>
<circle cx="145.3" cy="216.1" r="1.2" fill="#ff0000"/>
<circle cx="148.2" cy="218.7" r="1.2" fill="#ff0000"/>
<circle cx="150.7" cy="218.7" r="1.2" fill="#ff0000"/>
<circle cx="153.1" cy="218.7" r="1.2" fill="#ff0000"/>
<circle cx="157.4" cy="216.1" r="1.2" fill="#ff0000"/>
<circle cx="160.2" cy="217.5" r="1.2" fill="#ff0000"/>
<circle cx="164.5" cy="216.1" r="1.2" fill="#ff0000"/>
<circle cx="167.1" cy="217.5" r="1.2" fill="#ff0000"/>
<circle cx="171.8" cy="217.3" r="1.2" fill="#ff0000"/>
<circle cx="176.3" cy="218.6" r="1.2" fill="#ff0000"/>
<circle cx="179.1" cy="220" r="1.2" fill="#ff0000"/>
<circle cx="180.7" cy="216.1" r="1.2" fill="#ff0000"/>
<circle cx="183.4" cy="217.3" r="1.2" fill="#ff0000"/>
<circle cx="185.7" cy="217.3" r="1.2" fill="#ff0000"/>
<circle cx="187.6" cy="216.1" r="1.2" fill="#ff0000"/>
<circle cx="190.2" cy="218.6" r="1.2" fill="#ff0000"/>
<circle cx="194.5" cy="216.1" r="1.2" fill="#ff0000"/>
<circle cx="197.3" cy="220" r="1.2" fill="#ff0000"/>
<circle cx="199.2" cy="216.1" r="1.2" fill="#ff0000"/>
<circle cx="201.8" cy="218.7" r="1.2" fill="#ff0000"/>
<circle cx="206.6" cy="216.1" r="1.2" fill="#ff0000"/>
<circle cx="53.8" cy="221.6" r="1.2" fill="#ff0000"/>
<circle cx="70.8" cy="222.7" r="1.2" fill="#ff0000"/>
<circle cx="58.7" cy="225.3" r="1.2" fill="#ff0000"/>
<circle cx="80.3" cy="225.3" r="1.2" fill="#ff0000"/>
<circle cx="68.4" cy="226.8" r="1.2" fill="#ff0000"/>
<circle cx="82.9" cy="227.9" r="1.2" fill="#ff0000"/>
<circle cx="61.2" cy="229.3" r="1.2" fill="#ff0000"/>
<circle cx="63.7" cy="229.5" r="1.2" fill="#ff0000"/>
<circle cx="66.1" cy="229.5" r="1.2" fill="#ff0000"/>
<circle cx="73.5" cy="230.4" r="1.2" fill="#ff0000"/>
<circle cx="85.5" cy="230.4" r="1.2" fill="#ff0000"/>
<circle cx="51.4" cy="232" r="1.2" fill="#ff0000"/>
<circle cx="87.8" cy="232.2" r="1.2" fill="#ff0000"/>
<circle cx="88.8" cy="234.8" r="1.2" fill="#ff0000"/>
<circle cx="66.8" cy="234.5" r="1.2" fill="#ff0000"/>
<circle cx="76" cy="234.5" r="1.2" fill="#ff0000"/>
<circle cx="54" cy="235.7" r="1.2" fill="#ff0000"/>
<circle cx="85.9" cy="235.7" r="1.2" fill="#ff0000"/>
<circle cx="73.6" cy="237.4" r="1.2" fill="#ff0000"/>
<circle cx="80.7" cy="237.4" r="1.2" fill="#ff0000"/>
<circle cx="83.1" cy="237.4" r="1.2" fill="#ff0000"/>
<circle cx="69.4" cy="238.8" r="1.2" fill="#ff0000"/>
<circle cx="71.3" cy="238.8" r="1.2" fill="#ff0000"/>
<circle cx="64.2" cy="239.5" r="1.2" fill="#ff0000"/>
<circle cx="78.4" cy="238.8" r="1.2" fill="#ff0000"/>
<circle cx="51.9" cy="241.2" r="1.2" fill="#ff0000"/>
<circle cx="54" cy="241.2" r="1.2" fill="#ff0000"/>
<circle cx="55.9" cy="241.2" r="1.2" fill="#ff0000"/>
<circle cx="57.8" cy="241.2" r="1.2" fill="#ff0000"/>
<circle cx="59.5" cy="241.2" r="1.2" fill="#ff0000"/>
<circle cx="61.5" cy="241.2" r="1.2" fill="#ff0000"/>
<circle cx="89.5" cy="239.9" r="1.2" fill="#ff0000"/>
<circle cx="94.9" cy="222.7" r="1.2" fill="#ff0000"/>
<circle cx="96.8" cy="221.3" r="1.2" fill="#ff0000"/>
<circle cx="99.2" cy="220" r="1.2" fill="#ff0000"/>
<circle cx="101.1" cy="219.9" r="1.2" fill="#ff0000"/>
<circle cx="109.6" cy="221.6" r="1.2" fill="#ff0000"/>
<circle cx="112" cy="221.3" r="1.2" fill="#ff0000"/>
<circle cx="113.4" cy="220.8" r="1.2" fill="#ff0000"/>
<circle cx="115.3" cy="219.9" r="1.2" fill="#ff0000"/>
<circle cx="107.7" cy="224.1" r="1.2" fill="#ff0000"/>
<circle cx="106" cy="227" r="1.2" fill="#ff0000"/>
<circle cx="117.9" cy="226.7" r="1.2" fill="#ff0000"/>
<circle cx="122.6" cy="226.7" r="1.2" fill="#ff0000"/>
<circle cx="120.5" cy="229.3" r="1.2" fill="#ff0000"/>
<circle cx="95.4" cy="233.3" r="1.2" fill="#ff0000"/>
<circle cx="106.6" cy="232.2" r="1.2" fill="#ff0000"/>
<circle cx="110.1" cy="234.5" r="1.2" fill="#ff0000"/>
<circle cx="114.3" cy="235.7" r="1.2" fill="#ff0000"/>
<circle cx="121.4" cy="234.5" r="1.2" fill="#ff0000"/>
<circle cx="124.5" cy="230.3" r="1.2" fill="#ff0000"/>
<circle cx="97.3" cy="237.4" r="1.2" fill="#ff0000"/>
<circle cx="99.2" cy="237.4" r="1.2" fill="#ff0000"/>
<circle cx="101.1" cy="237.4" r="1.2" fill="#ff0000"/>
<circle cx="103.9" cy="238.6" r="1.2" fill="#ff0000"/>
<circle cx="90.7" cy="239.5" r="1.2" fill="#ff0000"/>
<circle cx="93" cy="239.5" r="1.2" fill="#ff0000"/>
<circle cx="112.4" cy="239.5" r="1.2" fill="#ff0000"/>
<circle cx="115.7" cy="239.5" r="1.2" fill="#ff0000"/>
<circle cx="123.3" cy="237.8" r="1.2" fill="#ff0000"/>
<circle cx="118.3" cy="241.2" r="1.2" fill="#ff0000"/>
<circle cx="126.8" cy="220" r="1.2" fill="#ff0000"/>
<circle cx="130.9" cy="220" r="1.2" fill="#ff0000"/>
<circle cx="129.5" cy="222.7" r="1.2" fill="#ff0000"/>
<circle cx="155.9" cy="221.6" r="1.2" fill="#ff0000"/>
<circle cx="158.3" cy="222.7" r="1.2" fill="#ff0000"/>
<circle cx="132.1" cy="225.3" r="1.2" fill="#ff0000"/>
<circle cx="138.9" cy="225.3" r="1.2" fill="#ff0000"/>
<circle cx="146.3" cy="226.8" r="1.2" fill="#ff0000"/>
<circle cx="148.8" cy="229.3" r="1.2" fill="#ff0000"/>
<circle cx="141.6" cy="230.4" r="1.2" fill="#ff0000"/>
<circle cx="159.5" cy="227.9" r="1.2" fill="#ff0000"/>
<circle cx="134.7" cy="233.1" r="1.2" fill="#ff0000"/>
<circle cx="151.2" cy="234.5" r="1.2" fill="#ff0000"/>
<circle cx="135.1" cy="235.7" r="1.2" fill="#ff0000"/>
<circle cx="137" cy="235.7" r="1.2" fill="#ff0000"/>
<circle cx="154" cy="235.9" r="1.2" fill="#ff0000"/>
<circle cx="125.7" cy="237.4" r="1.2" fill="#ff0000"/>
<circle cx="154.5" cy="237.4" r="1.2" fill="#ff0000"/>
<circle cx="129.9" cy="238.6" r="1.2" fill="#ff0000"/>
<circle cx="141.9" cy="238.6" r="1.2" fill="#ff0000"/>
<circle cx="144.1" cy="238.6" r="1.2" fill="#ff0000"/>
<circle cx="158.8" cy="239.5" r="1.2" fill="#ff0000"/>
<circle cx="127.6" cy="241.2" r="1.2" fill="#ff0000"/>
<circle cx="132.5" cy="241.2" r="1.2" fill="#ff0000"/>
<circle cx="139.7" cy="241.2" r="1.2" fill="#ff0000"/>
<circle cx="146.7" cy="241.2" r="1.2" fill="#ff0000"/>
<circle cx="149.3" cy="241.2" r="1.2" fill="#ff0000"/>
<circle cx="156.4" cy="242.5" r="1.2" fill="#ff0000"/>
<circle cx="162.8" cy="222.7" r="1.2" fill="#ff0000"/>
<circle cx="160.9" cy="227.9" r="1.2" fill="#ff0000"/>
<circle cx="168.5" cy="227.9" r="1.2" fill="#ff0000"/>
<circle cx="174.4" cy="226.8" r="1.2" fill="#ff0000"/>
<circle cx="181.5" cy="226.8" r="1.2" fill="#ff0000"/>
<circle cx="188.3" cy="227.9" r="1.2" fill="#ff0000"/>
<circle cx="191.7" cy="227.9" r="1.2" fill="#ff0000"/>
<circle cx="165.2" cy="230.4" r="1.2" fill="#ff0000"/>
<circle cx="183.8" cy="232" r="1.2" fill="#ff0000"/>
<circle cx="172.2" cy="234.5" r="1.2" fill="#ff0000"/>
<circle cx="190.9" cy="234.5" r="1.2" fill="#ff0000"/>
<circle cx="192.8" cy="237.4" r="1.2" fill="#ff0000"/>
<circle cx="161.4" cy="239.9" r="1.2" fill="#ff0000"/>
<circle cx="163.5" cy="242.5" r="1.2" fill="#ff0000"/>
<circle cx="165.9" cy="242.5" r="1.2" fill="#ff0000"/>
<circle cx="168" cy="238.7" r="1.2" fill="#ff0000"/>
<circle cx="169.9" cy="238.7" r="1.2" fill="#ff0000"/>
<circle cx="173" cy="239.9" r="1.2" fill="#ff0000"/>
<circle cx="174.9" cy="242.5" r="1.2" fill="#ff0000"/>
<circle cx="176.7" cy="238.7" r="1.2" fill="#ff0000"/>
<circle cx="177.5" cy="239.9" r="1.2" fill="#ff0000"/>
<circle cx="179.4" cy="242.5" r="1.2" fill="#ff0000"/>
<circle cx="182" cy="239.9" r="1.2" fill="#ff0000"/>
<circle cx="184.5" cy="241.2" r="1.2" fill="#ff0000"/>
<circle cx="186.7" cy="239.9" r="1.2" fill="#ff0000"/>
<circle cx="189" cy="241.2" r="1.2" fill="#ff0000"/>
<circle cx="193.6" cy="242.5" r="1.2" fill="#ff0000"/>
<circle cx="194.5" cy="234.5" r="1.2" fill="#ff0000"/>
<circle cx="199.7" cy="232.2" r="1.2" fill="#ff0000"/>
<circle cx="202.8" cy="232.2" r="1.2" fill="#ff0000"/>
<circle cx="204.7" cy="237.4" r="1.2" fill="#ff0000"/>
<circle cx="205" cy="238.7" r="1.2" fill="#ff0000"/>
<circle cx="202.2" cy="239.9" r="1.2" fill="#ff0000"/>
<circle cx="195.4" cy="242.5" r="1.2" fill="#ff0000"/>
<circle cx="197.3" cy="242.5" r="1.2" fill="#ff0000"/>
<circle cx="199.2" cy="242.5" r="1.2" fill="#ff0000"/>
<circle cx="200.6" cy="242.5" r="1.2" fill="#ff0000"/>
<text x="232.8" y="149.5" font-size="15" fill="#111" >D</text>
<text x="256.3" y="194.3" font-size="10.5" text-anchor="middle" fill="#111" >αMHC</text>
<text x="256.3" y="204.5" font-size="10.5" text-anchor="middle" fill="#111" >-Cre</text>
<text x="257.2" y="226.5" font-size="10.5" text-anchor="middle" fill="#111" >WT</text>
<line x1="283.4" y1="234.2" x2="491.1" y2="234.2" stroke="#6b6b6b" stroke-width="1"/>
<line x1="283.6" y1="234.2" x2="283.6" y2="236.8" stroke="#6b6b6b" stroke-width="1"/>
<text x="283" y="253.3" font-size="10.5" text-anchor="middle" fill="#111" >110</text>
<line x1="343.85" y1="234.2" x2="343.85" y2="236.8" stroke="#6b6b6b" stroke-width="1"/>
<text x="343.25" y="253.3" font-size="10.5" text-anchor="middle" fill="#111" >130</text>
<line x1="404.1" y1="234.2" x2="404.1" y2="236.8" stroke="#6b6b6b" stroke-width="1"/>
<text x="403.5" y="253.3" font-size="10.5" text-anchor="middle" fill="#111" >150</text>
<line x1="464.35" y1="234.2" x2="464.35" y2="236.8" stroke="#6b6b6b" stroke-width="1"/>
<text x="463.75" y="253.3" font-size="10.5" text-anchor="middle" fill="#111" >170</text>
<line x1="283.4" y1="185.3" x2="283.4" y2="236.8" stroke="#111" stroke-width="1"/>
<line x1="277.2" y1="198.2" x2="283.4" y2="198.2" stroke="#111" stroke-width="1"/>
<line x1="277.2" y1="221.3" x2="283.4" y2="221.3" stroke="#111" stroke-width="1"/>
<text x="345" y="273.5" font-size="10.8" fill="#111" >RR intervals (ms)</text>
<circle cx="301.4" cy="198.6" r="2" fill="#ff0000"/>
<circle cx="303.6" cy="198.6" r="2" fill="#ff0000"/>
<circle cx="305.8" cy="198.6" r="2" fill="#ff0000"/>
<circle cx="308" cy="198.6" r="2" fill="#ff0000"/>
<circle cx="310.2" cy="198.6" r="2" fill="#ff0000"/>
<circle cx="312.4" cy="198.6" r="2" fill="#ff0000"/>
<circle cx="314.6" cy="198.6" r="2" fill="#ff0000"/>
<circle cx="316.8" cy="198.6" r="2" fill="#ff0000"/>
<circle cx="319" cy="198.6" r="2" fill="#ff0000"/>
<circle cx="321.2" cy="198.6" r="2" fill="#ff0000"/>
<circle cx="323.4" cy="198.6" r="2" fill="#ff0000"/>
<circle cx="325.6" cy="198.6" r="2" fill="#ff0000"/>
<circle cx="327.8" cy="198.6" r="2" fill="#ff0000"/>
<circle cx="330" cy="198.6" r="2" fill="#ff0000"/>
<circle cx="332.2" cy="198.6" r="2" fill="#ff0000"/>
<circle cx="334.4" cy="198.6" r="2" fill="#ff0000"/>
<circle cx="336.6" cy="198.6" r="2" fill="#ff0000"/>
<circle cx="338.8" cy="198.6" r="2" fill="#ff0000"/>
<circle cx="341" cy="198.6" r="2" fill="#ff0000"/>
<circle cx="343.2" cy="198.6" r="2" fill="#ff0000"/>
<circle cx="345.4" cy="198.6" r="2" fill="#ff0000"/>
<circle cx="347.6" cy="198.6" r="2" fill="#ff0000"/>
<circle cx="349.8" cy="198.6" r="2" fill="#ff0000"/>
<circle cx="352" cy="198.6" r="2" fill="#ff0000"/>
<circle cx="354.2" cy="198.6" r="2" fill="#ff0000"/>
<circle cx="356.4" cy="198.6" r="2" fill="#ff0000"/>
<circle cx="358.6" cy="198.6" r="2" fill="#ff0000"/>
<circle cx="360.8" cy="198.6" r="2" fill="#ff0000"/>
<circle cx="373.6" cy="198.6" r="2" fill="#ff0000"/>
<circle cx="385.9" cy="198.6" r="2" fill="#ff0000"/>
<circle cx="409.6" cy="198.6" r="2" fill="#ff0000"/>
<circle cx="411.8" cy="198.6" r="2" fill="#ff0000"/>
<circle cx="414" cy="198.6" r="2" fill="#ff0000"/>
<circle cx="416.2" cy="198.6" r="2" fill="#ff0000"/>
<circle cx="418.4" cy="198.6" r="2" fill="#ff0000"/>
<circle cx="420.6" cy="198.6" r="2" fill="#ff0000"/>
<circle cx="422.8" cy="198.6" r="2" fill="#ff0000"/>
<circle cx="425" cy="198.6" r="2" fill="#ff0000"/>
<circle cx="427.2" cy="198.6" r="2" fill="#ff0000"/>
<circle cx="429.4" cy="198.6" r="2" fill="#ff0000"/>
<circle cx="431.6" cy="198.6" r="2" fill="#ff0000"/>
<circle cx="433.8" cy="198.6" r="2" fill="#ff0000"/>
<circle cx="436" cy="198.6" r="2" fill="#ff0000"/>
<circle cx="438.2" cy="198.6" r="2" fill="#ff0000"/>
<circle cx="440.4" cy="198.6" r="2" fill="#ff0000"/>
<circle cx="442.6" cy="198.6" r="2" fill="#ff0000"/>
<circle cx="444.8" cy="198.6" r="2" fill="#ff0000"/>
<circle cx="447" cy="198.6" r="2" fill="#ff0000"/>
<circle cx="449.2" cy="198.6" r="2" fill="#ff0000"/>
<circle cx="451.4" cy="198.6" r="2" fill="#ff0000"/>
<circle cx="453.6" cy="198.6" r="2" fill="#ff0000"/>
<circle cx="455.8" cy="198.6" r="2" fill="#ff0000"/>
<circle cx="458" cy="198.6" r="2" fill="#ff0000"/>
<circle cx="460.2" cy="198.6" r="2" fill="#ff0000"/>
<circle cx="462.4" cy="198.6" r="2" fill="#ff0000"/>
<circle cx="464.6" cy="198.6" r="2" fill="#ff0000"/>
<circle cx="466.8" cy="198.6" r="2" fill="#ff0000"/>
<circle cx="469" cy="198.6" r="2" fill="#ff0000"/>
<circle cx="471.2" cy="198.6" r="2" fill="#ff0000"/>
<circle cx="473.4" cy="198.6" r="2" fill="#ff0000"/>
<circle cx="475.6" cy="198.6" r="2" fill="#ff0000"/>
<circle cx="361" cy="221.3" r="2" fill="#1010ff"/>
<circle cx="363.2" cy="221.3" r="2" fill="#1010ff"/>
<circle cx="365.4" cy="221.3" r="2" fill="#1010ff"/>
<circle cx="367.6" cy="221.3" r="2" fill="#1010ff"/>
<circle cx="369.8" cy="221.3" r="2" fill="#1010ff"/>
<circle cx="372" cy="221.3" r="2" fill="#1010ff"/>
<circle cx="374.2" cy="221.3" r="2" fill="#1010ff"/>
<circle cx="376.4" cy="221.3" r="2" fill="#1010ff"/>
<circle cx="378.6" cy="221.3" r="2" fill="#1010ff"/>
<circle cx="380.8" cy="221.3" r="2" fill="#1010ff"/>
<circle cx="383" cy="221.3" r="2" fill="#1010ff"/>
<circle cx="385.2" cy="221.3" r="2" fill="#1010ff"/>
<text x="3.8" y="302.2" font-size="15" fill="#111" >E</text>
<line x1="51.2" y1="308.8" x2="51.2" y2="401.8" stroke="#6b6b6b" stroke-width="1"/>
<line x1="48.8" y1="309.4" x2="51.2" y2="309.4" stroke="#6b6b6b" stroke-width="1"/>
<text x="46.6" y="313.4" font-size="10.5" text-anchor="end" fill="#111" >600</text>
<line x1="48.8" y1="340.2" x2="51.2" y2="340.2" stroke="#6b6b6b" stroke-width="1"/>
<text x="46.6" y="344.2" font-size="10.5" text-anchor="end" fill="#111" >400</text>
<line x1="48.8" y1="371" x2="51.2" y2="371" stroke="#6b6b6b" stroke-width="1"/>
<text x="46.6" y="375" font-size="10.5" text-anchor="end" fill="#111" >200</text>
<line x1="48.8" y1="401.8" x2="51.2" y2="401.8" stroke="#6b6b6b" stroke-width="1"/>
<text x="46.6" y="405.8" font-size="10.5" text-anchor="end" fill="#111" >0</text>
<line x1="48.8" y1="401.6" x2="108.8" y2="401.6" stroke="#6b6b6b" stroke-width="1"/>
<text transform="translate(25.3,352.1) rotate(-90)" font-size="10.8" text-anchor="middle" fill="#111">Heart Rate (bpm)</text>
<rect x="59.7" y="329.3" width="16.1" height="72.3" fill="#fff" stroke="#777" stroke-width="1"/>
<clipPath id="c1"><rect x="84.4" y="341" width="16.2" height="60.6"/></clipPath>
<rect x="84.4" y="341" width="16.2" height="60.6" fill="#fff"/>
<path d="M84.4,341 L100.6,324.8 M84.4,343.4 L100.6,327.2 M84.4,345.8 L100.6,329.6 M84.4,348.2 L100.6,332 M84.4,350.6 L100.6,334.4 M84.4,353 L100.6,336.8 M84.4,355.4 L100.6,339.2 M84.4,357.8 L100.6,341.6 M84.4,360.2 L100.6,344 M84.4,362.6 L100.6,346.4 M84.4,365 L100.6,348.8 M84.4,367.4 L100.6,351.2 M84.4,369.8 L100.6,353.6 M84.4,372.2 L100.6,356 M84.4,374.6 L100.6,358.4 M84.4,377 L100.6,360.8 M84.4,379.4 L100.6,363.2 M84.4,381.8 L100.6,365.6 M84.4,384.2 L100.6,368 M84.4,386.6 L100.6,370.4 M84.4,389 L100.6,372.8 M84.4,391.4 L100.6,375.2 M84.4,393.8 L100.6,377.6 M84.4,396.2 L100.6,380 M84.4,398.6 L100.6,382.4 M84.4,401 L100.6,384.8 M84.4,403.4 L100.6,387.2 M84.4,405.8 L100.6,389.6 M84.4,408.2 L100.6,392 M84.4,410.6 L100.6,394.4 M84.4,413 L100.6,396.8 M84.4,415.4 L100.6,399.2 M84.4,417.8 L100.6,401.6 M84.4,420.2 L100.6,404" stroke="#505050" stroke-width="0.8" clip-path="url(#c1)"/>
<rect x="84.4" y="341" width="16.2" height="60.6" fill="none" stroke="#333" stroke-width="1"/>
<line x1="68.1" y1="320.3" x2="68.1" y2="338" stroke="#111" stroke-width="0.9"/>
<line x1="64.7" y1="320.3" x2="71.5" y2="320.3" stroke="#111" stroke-width="0.9"/>
<line x1="92.5" y1="332.3" x2="92.5" y2="350" stroke="#111" stroke-width="0.9"/>
<line x1="89.5" y1="332.3" x2="95.5" y2="332.3" stroke="#111" stroke-width="0.9"/>
<circle cx="65.3" cy="315.8" r="1.5" fill="#fff" stroke="#111" stroke-width="1.1"/>
<circle cx="70.1" cy="316" r="1.5" fill="#fff" stroke="#111" stroke-width="1.1"/>
<circle cx="70.1" cy="319.9" r="1.5" fill="#fff" stroke="#111" stroke-width="1.1"/>
<circle cx="61" cy="322.8" r="1.5" fill="#fff" stroke="#111" stroke-width="1.1"/>
<circle cx="74.7" cy="323.1" r="1.5" fill="#fff" stroke="#111" stroke-width="1.1"/>
<circle cx="70.1" cy="325.7" r="1.5" fill="#fff" stroke="#111" stroke-width="1.1"/>
<circle cx="65.8" cy="327.6" r="1.5" fill="#fff" stroke="#111" stroke-width="1.1"/>
<circle cx="70.1" cy="329.9" r="1.5" fill="#fff" stroke="#111" stroke-width="1.1"/>
<circle cx="65.8" cy="334" r="1.5" fill="#fff" stroke="#111" stroke-width="1.1"/>
<circle cx="70.1" cy="334.8" r="1.5" fill="#fff" stroke="#111" stroke-width="1.1"/>
<circle cx="61" cy="336.7" r="1.5" fill="#fff" stroke="#111" stroke-width="1.1"/>
<circle cx="74.9" cy="336.7" r="1.5" fill="#fff" stroke="#111" stroke-width="1.1"/>
<circle cx="70.1" cy="339" r="1.5" fill="#fff" stroke="#111" stroke-width="1.1"/>
<circle cx="65.3" cy="341" r="1.5" fill="#fff" stroke="#111" stroke-width="1.1"/>
<circle cx="67.8" cy="335.5" r="1.5" fill="#fff" stroke="#111" stroke-width="1.1"/>
<circle cx="88.7" cy="329.5" r="1.75" fill="#111"/>
<circle cx="92.3" cy="328" r="1.75" fill="#111"/>
<circle cx="95.9" cy="329.5" r="1.75" fill="#111"/>
<circle cx="92.8" cy="334" r="1.75" fill="#111"/>
<circle cx="90.6" cy="336.6" r="1.75" fill="#111"/>
<circle cx="85.7" cy="342.3" r="1.75" fill="#111"/>
<circle cx="92.3" cy="341.8" r="1.75" fill="#111"/>
<circle cx="95.6" cy="341.3" r="1.75" fill="#111"/>
<circle cx="99.4" cy="342.7" r="1.75" fill="#111"/>
<circle cx="89" cy="347.5" r="1.75" fill="#111"/>
<circle cx="92.3" cy="347" r="1.75" fill="#111"/>
<circle cx="95.6" cy="348.2" r="1.75" fill="#111"/>
<circle cx="92.3" cy="353.6" r="1.75" fill="#111"/>
<line x1="68" y1="307.7" x2="92.4" y2="307.7" stroke="#111" stroke-width="1.4"/>
<text x="67.7" y="309.3" font-size="14" fill="#111" letter-spacing="1.4" style="stroke-width:0.5px">****</text>
<text x="54.9" y="416.3" font-size="10.5" fill="#111" >WT</text>
<text x="75.9" y="416.3" font-size="10.5" fill="#111" >αMHC-Cre</text>
<text x="116.9" y="302.3" font-size="15" fill="#111" >F</text>
<line x1="156.2" y1="306.2" x2="156.2" y2="400.1" stroke="#6b6b6b" stroke-width="1"/>
<line x1="152.2" y1="306.6" x2="156.2" y2="306.6" stroke="#6b6b6b" stroke-width="1"/>
<text x="150" y="311" font-size="10.5" text-anchor="end" fill="#111" >80</text>
<line x1="152.2" y1="329.95" x2="156.2" y2="329.95" stroke="#6b6b6b" stroke-width="1"/>
<text x="150" y="334.35" font-size="10.5" text-anchor="end" fill="#111" >60</text>
<line x1="152.2" y1="353.3" x2="156.2" y2="353.3" stroke="#6b6b6b" stroke-width="1"/>
<text x="150" y="357.7" font-size="10.5" text-anchor="end" fill="#111" >40</text>
<line x1="152.2" y1="376.65" x2="156.2" y2="376.65" stroke="#6b6b6b" stroke-width="1"/>
<text x="150" y="381.05" font-size="10.5" text-anchor="end" fill="#111" >20</text>
<line x1="152.2" y1="400" x2="156.2" y2="400" stroke="#6b6b6b" stroke-width="1"/>
<text x="150" y="404.4" font-size="10.5" text-anchor="end" fill="#111" >0</text>
<line x1="156.2" y1="400.1" x2="302.2" y2="400.1" stroke="#6b6b6b" stroke-width="1"/>
<text transform="translate(132.8,351.6) rotate(-90)" font-size="10.8" text-anchor="middle" fill="#111">Time (ms)</text>
<rect x="162.3" y="385.41" width="10.6" height="14.89" fill="#fff" stroke="#777" stroke-width="1"/>
<clipPath id="c2"><rect x="174.5" y="380.15" width="11" height="20.15"/></clipPath>
<rect x="174.5" y="380.15" width="11" height="20.15" fill="#fff"/>
<path d="M174.5,380.15 L185.5,369.15 M174.5,382.9 L185.5,371.9 M174.5,385.65 L185.5,374.65 M174.5,388.4 L185.5,377.4 M174.5,391.15 L185.5,380.15 M174.5,393.9 L185.5,382.9 M174.5,396.65 L185.5,385.65 M174.5,399.4 L185.5,388.4 M174.5,402.15 L185.5,391.15 M174.5,404.9 L185.5,393.9 M174.5,407.65 L185.5,396.65 M174.5,410.4 L185.5,399.4 M174.5,413.15 L185.5,402.15" stroke="#111" stroke-width="0.85" clip-path="url(#c2)"/>
<rect x="174.5" y="380.15" width="11" height="20.15" fill="none" stroke="#555" stroke-width="1"/>
<rect x="198.8" y="351.55" width="11.3" height="48.75" fill="#fff" stroke="#777" stroke-width="1"/>
<clipPath id="c3"><rect x="211.3" y="345.94" width="11.1" height="54.36"/></clipPath>
<rect x="211.3" y="345.94" width="11.1" height="54.36" fill="#fff"/>
<path d="M211.3,345.94 L222.4,334.84 M211.3,348.69 L222.4,337.59 M211.3,351.44 L222.4,340.34 M211.3,354.19 L222.4,343.09 M211.3,356.94 L222.4,345.84 M211.3,359.69 L222.4,348.59 M211.3,362.44 L222.4,351.34 M211.3,365.19 L222.4,354.09 M211.3,367.94 L222.4,356.84 M211.3,370.69 L222.4,359.59 M211.3,373.44 L222.4,362.34 M211.3,376.19 L222.4,365.09 M211.3,378.94 L222.4,367.84 M211.3,381.69 L222.4,370.59 M211.3,384.44 L222.4,373.34 M211.3,387.19 L222.4,376.09 M211.3,389.94 L222.4,378.84 M211.3,392.69 L222.4,381.59 M211.3,395.44 L222.4,384.34 M211.3,398.19 L222.4,387.09 M211.3,400.94 L222.4,389.84 M211.3,403.69 L222.4,392.59 M211.3,406.44 L222.4,395.34 M211.3,409.19 L222.4,398.09 M211.3,411.94 L222.4,400.84" stroke="#111" stroke-width="0.85" clip-path="url(#c3)"/>
<rect x="211.3" y="345.94" width="11.1" height="54.36" fill="none" stroke="#555" stroke-width="1"/>
<rect x="235.1" y="379.57" width="10.8" height="20.73" fill="#fff" stroke="#777" stroke-width="1"/>
<clipPath id="c4"><rect x="247.2" y="376.65" width="12" height="23.65"/></clipPath>
<rect x="247.2" y="376.65" width="12" height="23.65" fill="#fff"/>
<path d="M247.2,376.65 L259.2,364.65 M247.2,379.4 L259.2,367.4 M247.2,382.15 L259.2,370.15 M247.2,384.9 L259.2,372.9 M247.2,387.65 L259.2,375.65 M247.2,390.4 L259.2,378.4 M247.2,393.15 L259.2,381.15 M247.2,395.9 L259.2,383.9 M247.2,398.65 L259.2,386.65 M247.2,401.4 L259.2,389.4 M247.2,404.15 L259.2,392.15 M247.2,406.9 L259.2,394.9 M247.2,409.65 L259.2,397.65 M247.2,412.4 L259.2,400.4" stroke="#111" stroke-width="0.85" clip-path="url(#c4)"/>
<rect x="247.2" y="376.65" width="12" height="23.65" fill="none" stroke="#555" stroke-width="1"/>
<rect x="271.5" y="370.58" width="10.9" height="29.72" fill="#fff" stroke="#777" stroke-width="1"/>
<clipPath id="c5"><rect x="284.1" y="362.06" width="11.1" height="38.24"/></clipPath>
<rect x="284.1" y="362.06" width="11.1" height="38.24" fill="#fff"/>
<path d="M284.1,362.06 L295.2,350.96 M284.1,364.81 L295.2,353.71 M284.1,367.56 L295.2,356.46 M284.1,370.31 L295.2,359.21 M284.1,373.06 L295.2,361.96 M284.1,375.81 L295.2,364.71 M284.1,378.56 L295.2,367.46 M284.1,381.31 L295.2,370.21 M284.1,384.06 L295.2,372.96 M284.1,386.81 L295.2,375.71 M284.1,389.56 L295.2,378.46 M284.1,392.31 L295.2,381.21 M284.1,395.06 L295.2,383.96 M284.1,397.81 L295.2,386.71 M284.1,400.56 L295.2,389.46 M284.1,403.31 L295.2,392.21 M284.1,406.06 L295.2,394.96 M284.1,408.81 L295.2,397.71 M284.1,411.56 L295.2,400.46" stroke="#111" stroke-width="0.85" clip-path="url(#c5)"/>
<rect x="284.1" y="362.06" width="11.1" height="38.24" fill="none" stroke="#555" stroke-width="1"/>
<circle cx="167.12" cy="377.97" r="1.45" fill="none" stroke="#111" stroke-width="0.95"/>
<circle cx="166.18" cy="379.68" r="1.45" fill="none" stroke="#111" stroke-width="0.95"/>
<circle cx="168.55" cy="379.77" r="1.45" fill="none" stroke="#111" stroke-width="0.95"/>
<circle cx="164.88" cy="381.94" r="1.45" fill="none" stroke="#111" stroke-width="0.95"/>
<circle cx="167.1" cy="381.56" r="1.45" fill="none" stroke="#111" stroke-width="0.95"/>
<circle cx="169.97" cy="381.77" r="1.45" fill="none" stroke="#111" stroke-width="0.95"/>
<circle cx="163.53" cy="383.55" r="1.45" fill="none" stroke="#111" stroke-width="0.95"/>
<circle cx="165.97" cy="383.91" r="1.45" fill="none" stroke="#111" stroke-width="0.95"/>
<circle cx="168.46" cy="384.02" r="1.45" fill="none" stroke="#111" stroke-width="0.95"/>
<circle cx="171.4" cy="383.57" r="1.45" fill="none" stroke="#111" stroke-width="0.95"/>
<circle cx="163.16" cy="385.82" r="1.45" fill="none" stroke="#111" stroke-width="0.95"/>
<circle cx="166.22" cy="385.74" r="1.45" fill="none" stroke="#111" stroke-width="0.95"/>
<circle cx="168.46" cy="385.76" r="1.45" fill="none" stroke="#111" stroke-width="0.95"/>
<circle cx="170.96" cy="385.66" r="1.45" fill="none" stroke="#111" stroke-width="0.95"/>
<circle cx="163.37" cy="387.8" r="1.45" fill="none" stroke="#111" stroke-width="0.95"/>
<circle cx="165.87" cy="387.67" r="1.45" fill="none" stroke="#111" stroke-width="0.95"/>
<circle cx="168.46" cy="387.78" r="1.45" fill="none" stroke="#111" stroke-width="0.95"/>
<circle cx="171.09" cy="387.56" r="1.45" fill="none" stroke="#111" stroke-width="0.95"/>
<circle cx="180.1" cy="362.9" r="1.3" fill="#111"/>
<circle cx="178.6" cy="370.6" r="1.3" fill="#111"/>
<circle cx="181.8" cy="369.7" r="1.3" fill="#111"/>
<circle cx="180" cy="373.5" r="1.3" fill="#111"/>
<circle cx="175.8" cy="376.7" r="1.3" fill="#111"/>
<circle cx="180" cy="377" r="1.3" fill="#111"/>
<circle cx="183.3" cy="376" r="1.3" fill="#111"/>
<circle cx="185" cy="378.5" r="1.3" fill="#111"/>
<circle cx="176.81" cy="379.95" r="1.25" fill="#111"/>
<circle cx="178.61" cy="379.08" r="1.25" fill="#111"/>
<circle cx="182.09" cy="379.74" r="1.25" fill="#111"/>
<circle cx="184.62" cy="379.31" r="1.25" fill="#111"/>
<circle cx="176.46" cy="381.91" r="1.25" fill="#111"/>
<circle cx="179.13" cy="381.46" r="1.25" fill="#111"/>
<circle cx="181.68" cy="381.69" r="1.25" fill="#111"/>
<circle cx="184.67" cy="382.29" r="1.25" fill="#111"/>
<circle cx="176.8" cy="384.24" r="1.25" fill="#111"/>
<circle cx="178.99" cy="383.97" r="1.25" fill="#111"/>
<circle cx="181.29" cy="383.73" r="1.25" fill="#111"/>
<circle cx="184.41" cy="384.02" r="1.25" fill="#111"/>
<circle cx="177.48" cy="386.99" r="1.25" fill="#111"/>
<circle cx="180.43" cy="386.66" r="1.25" fill="#111"/>
<circle cx="182.94" cy="386.12" r="1.25" fill="#111"/>
<circle cx="178.73" cy="388.64" r="1.25" fill="#111"/>
<circle cx="181.91" cy="389.5" r="1.25" fill="#111"/>
<circle cx="202.9" cy="337.2" r="1.45" fill="#fff" stroke="#111" stroke-width="1.0"/>
<circle cx="205.6" cy="337.2" r="1.45" fill="#fff" stroke="#111" stroke-width="1.0"/>
<circle cx="205.2" cy="342.4" r="1.45" fill="#fff" stroke="#111" stroke-width="1.0"/>
<circle cx="203.6" cy="344.6" r="1.45" fill="#fff" stroke="#111" stroke-width="1.0"/>
<circle cx="206.2" cy="345.6" r="1.45" fill="#fff" stroke="#111" stroke-width="1.0"/>
<circle cx="200.4" cy="348.3" r="1.45" fill="#fff" stroke="#111" stroke-width="1.0"/>
<circle cx="202.8" cy="347.6" r="1.45" fill="#fff" stroke="#111" stroke-width="1.0"/>
<circle cx="205.4" cy="348.6" r="1.45" fill="#fff" stroke="#111" stroke-width="1.0"/>
<circle cx="208.2" cy="348.2" r="1.45" fill="#fff" stroke="#111" stroke-width="1.0"/>
<circle cx="201.2" cy="350.8" r="1.45" fill="#fff" stroke="#111" stroke-width="1.0"/>
<circle cx="203.9" cy="351.2" r="1.45" fill="#fff" stroke="#111" stroke-width="1.0"/>
<circle cx="206.6" cy="351" r="1.45" fill="#fff" stroke="#111" stroke-width="1.0"/>
<circle cx="209.1" cy="350.6" r="1.45" fill="#fff" stroke="#111" stroke-width="1.0"/>
<circle cx="200.6" cy="355.4" r="1.45" fill="#fff" stroke="#111" stroke-width="1.0"/>
<circle cx="203.2" cy="355.8" r="1.45" fill="#fff" stroke="#111" stroke-width="1.0"/>
<circle cx="205.8" cy="356.2" r="1.45" fill="#fff" stroke="#111" stroke-width="1.0"/>
<circle cx="208.4" cy="355.4" r="1.45" fill="#fff" stroke="#111" stroke-width="1.0"/>
<circle cx="201.8" cy="358.6" r="1.45" fill="#fff" stroke="#111" stroke-width="1.0"/>
<circle cx="204.5" cy="358.9" r="1.45" fill="#fff" stroke="#111" stroke-width="1.0"/>
<circle cx="207.2" cy="358.4" r="1.45" fill="#fff" stroke="#111" stroke-width="1.0"/>
<circle cx="203.6" cy="361.8" r="1.45" fill="#fff" stroke="#111" stroke-width="1.0"/>
<circle cx="206" cy="362.4" r="1.45" fill="#fff" stroke="#111" stroke-width="1.0"/>
<circle cx="216.7" cy="313.8" r="1.3" fill="#111"/>
<circle cx="216.7" cy="331" r="1.3" fill="#111"/>
<circle cx="218.3" cy="333.7" r="1.3" fill="#111"/>
<circle cx="215.7" cy="335.9" r="1.3" fill="#111"/>
<circle cx="217.3" cy="338" r="1.3" fill="#111"/>
<circle cx="216.2" cy="340.6" r="1.3" fill="#111"/>
<circle cx="212.5" cy="343.8" r="1.3" fill="#111"/>
<circle cx="216.7" cy="342.8" r="1.3" fill="#111"/>
<circle cx="212.62" cy="346.3" r="1.3" fill="#111"/>
<circle cx="215.4" cy="346.33" r="1.3" fill="#111"/>
<circle cx="217.93" cy="346.45" r="1.3" fill="#111"/>
<circle cx="221.06" cy="346.65" r="1.3" fill="#111"/>
<circle cx="212.88" cy="348.46" r="1.3" fill="#111"/>
<circle cx="215.47" cy="348.49" r="1.3" fill="#111"/>
<circle cx="217.99" cy="348.4" r="1.3" fill="#111"/>
<circle cx="220.71" cy="348.81" r="1.3" fill="#111"/>
<circle cx="214.26" cy="350.95" r="1.3" fill="#111"/>
<circle cx="216.95" cy="350.65" r="1.3" fill="#111"/>
<circle cx="219.4" cy="350.86" r="1.3" fill="#111"/>
<circle cx="215.57" cy="353.18" r="1.3" fill="#111"/>
<circle cx="218.34" cy="352.79" r="1.3" fill="#111"/>
<circle cx="216.85" cy="356.09" r="1.3" fill="#111"/>
<circle cx="216.8" cy="358.84" r="1.3" fill="#111"/>
<circle cx="216.79" cy="362.29" r="1.3" fill="#111"/>
<circle cx="217.02" cy="366.18" r="1.3" fill="#111"/>
<circle cx="216.82" cy="369.4" r="1.3" fill="#111"/>
<circle cx="239.71" cy="376.62" r="1.45" fill="none" stroke="#111" stroke-width="0.95"/>
<circle cx="242.3" cy="376.72" r="1.45" fill="none" stroke="#111" stroke-width="0.95"/>
<circle cx="237.12" cy="378.71" r="1.45" fill="none" stroke="#111" stroke-width="0.95"/>
<circle cx="239.36" cy="378.48" r="1.45" fill="none" stroke="#111" stroke-width="0.95"/>
<circle cx="242.42" cy="378.57" r="1.45" fill="none" stroke="#111" stroke-width="0.95"/>
<circle cx="245" cy="378.31" r="1.45" fill="none" stroke="#111" stroke-width="0.95"/>
<circle cx="237.13" cy="380.37" r="1.45" fill="none" stroke="#111" stroke-width="0.95"/>
<circle cx="239.67" cy="380.54" r="1.45" fill="none" stroke="#111" stroke-width="0.95"/>
<circle cx="241.91" cy="380.36" r="1.45" fill="none" stroke="#111" stroke-width="0.95"/>
<circle cx="244.54" cy="380.71" r="1.45" fill="none" stroke="#111" stroke-width="0.95"/>
<circle cx="236.03" cy="382.33" r="1.45" fill="none" stroke="#111" stroke-width="0.95"/>
<circle cx="238.55" cy="382.32" r="1.45" fill="none" stroke="#111" stroke-width="0.95"/>
<circle cx="240.96" cy="382.31" r="1.45" fill="none" stroke="#111" stroke-width="0.95"/>
<circle cx="243.15" cy="382.69" r="1.45" fill="none" stroke="#111" stroke-width="0.95"/>
<circle cx="245.75" cy="382.36" r="1.45" fill="none" stroke="#111" stroke-width="0.95"/>
<circle cx="238.34" cy="384.69" r="1.45" fill="none" stroke="#111" stroke-width="0.95"/>
<circle cx="240.79" cy="384.73" r="1.45" fill="none" stroke="#111" stroke-width="0.95"/>
<circle cx="243.72" cy="384.59" r="1.45" fill="none" stroke="#111" stroke-width="0.95"/>
<circle cx="240.75" cy="386.22" r="1.45" fill="none" stroke="#111" stroke-width="0.95"/>
<circle cx="253.4" cy="355.9" r="1.3" fill="#111"/>
<circle cx="253.5" cy="367.2" r="1.3" fill="#111"/>
<circle cx="253" cy="369.5" r="1.3" fill="#111"/>
<circle cx="253.8" cy="371.5" r="1.3" fill="#111"/>
<circle cx="252.5" cy="373.5" r="1.3" fill="#111"/>
<circle cx="254" cy="375" r="1.3" fill="#111"/>
<circle cx="248.75" cy="376.66" r="1.3" fill="#111"/>
<circle cx="250.89" cy="376.38" r="1.3" fill="#111"/>
<circle cx="252.95" cy="376.58" r="1.3" fill="#111"/>
<circle cx="255.49" cy="376.63" r="1.3" fill="#111"/>
<circle cx="257.74" cy="376.64" r="1.3" fill="#111"/>
<circle cx="248.49" cy="378.45" r="1.3" fill="#111"/>
<circle cx="251.01" cy="378.26" r="1.3" fill="#111"/>
<circle cx="253.22" cy="378.39" r="1.3" fill="#111"/>
<circle cx="255.35" cy="378.33" r="1.3" fill="#111"/>
<circle cx="257.95" cy="378.18" r="1.3" fill="#111"/>
<circle cx="249.45" cy="380.09" r="1.3" fill="#111"/>
<circle cx="252.07" cy="379.92" r="1.3" fill="#111"/>
<circle cx="254.3" cy="380.15" r="1.3" fill="#111"/>
<circle cx="257.25" cy="379.97" r="1.3" fill="#111"/>
<circle cx="250.4" cy="381.35" r="1.3" fill="#111"/>
<circle cx="253.27" cy="381.4" r="1.3" fill="#111"/>
<circle cx="256.03" cy="381.54" r="1.3" fill="#111"/>
<circle cx="277.9" cy="360.1" r="1.45" fill="none" stroke="#111" stroke-width="0.95"/>
<circle cx="276.5" cy="362.5" r="1.45" fill="none" stroke="#111" stroke-width="0.95"/>
<circle cx="275" cy="364" r="1.45" fill="none" stroke="#111" stroke-width="0.95"/>
<circle cx="277.5" cy="364.5" r="1.45" fill="none" stroke="#111" stroke-width="0.95"/>
<circle cx="279" cy="366.5" r="1.45" fill="none" stroke="#111" stroke-width="0.95"/>
<circle cx="277" cy="368" r="1.45" fill="none" stroke="#111" stroke-width="0.95"/>
<circle cx="274.5" cy="369.5" r="1.45" fill="none" stroke="#111" stroke-width="0.95"/>
<circle cx="280" cy="369.5" r="1.45" fill="none" stroke="#111" stroke-width="0.95"/>
<circle cx="282" cy="370.5" r="1.45" fill="none" stroke="#111" stroke-width="0.95"/>
<circle cx="272.5" cy="371" r="1.45" fill="none" stroke="#111" stroke-width="0.95"/>
<circle cx="276" cy="371.5" r="1.45" fill="none" stroke="#111" stroke-width="0.95"/>
<circle cx="279" cy="372.5" r="1.45" fill="none" stroke="#111" stroke-width="0.95"/>
<circle cx="273" cy="374" r="1.45" fill="none" stroke="#111" stroke-width="0.95"/>
<circle cx="276" cy="374.5" r="1.45" fill="none" stroke="#111" stroke-width="0.95"/>
<circle cx="278.5" cy="375.5" r="1.45" fill="none" stroke="#111" stroke-width="0.95"/>
<circle cx="275" cy="377" r="1.45" fill="none" stroke="#111" stroke-width="0.95"/>
<circle cx="277.5" cy="378.2" r="1.45" fill="none" stroke="#111" stroke-width="0.95"/>
<circle cx="281" cy="373.5" r="1.45" fill="none" stroke="#111" stroke-width="0.95"/>
<circle cx="290.4" cy="342.7" r="1.3" fill="#111"/>
<circle cx="289.3" cy="345" r="1.3" fill="#111"/>
<circle cx="288.8" cy="349.5" r="1.3" fill="#111"/>
<circle cx="290.5" cy="351" r="1.3" fill="#111"/>
<circle cx="291.5" cy="353" r="1.3" fill="#111"/>
<circle cx="289.5" cy="355" r="1.3" fill="#111"/>
<circle cx="290" cy="357.5" r="1.3" fill="#111"/>
<circle cx="289.5" cy="360" r="1.3" fill="#111"/>
<circle cx="289" cy="373" r="1.3" fill="#111"/>
<circle cx="285.76" cy="362.73" r="1.3" fill="#111"/>
<circle cx="288.31" cy="362.6" r="1.3" fill="#111"/>
<circle cx="290.89" cy="362.37" r="1.3" fill="#111"/>
<circle cx="293.95" cy="362.35" r="1.3" fill="#111"/>
<circle cx="285.27" cy="364.48" r="1.3" fill="#111"/>
<circle cx="287.48" cy="364.5" r="1.3" fill="#111"/>
<circle cx="289.65" cy="364.67" r="1.3" fill="#111"/>
<circle cx="291.89" cy="364.37" r="1.3" fill="#111"/>
<circle cx="294.16" cy="364.38" r="1.3" fill="#111"/>
<circle cx="285.85" cy="366.7" r="1.3" fill="#111"/>
<circle cx="288.44" cy="366.31" r="1.3" fill="#111"/>
<circle cx="290.98" cy="366.75" r="1.3" fill="#111"/>
<circle cx="293.48" cy="366.56" r="1.3" fill="#111"/>
<circle cx="285.84" cy="368.58" r="1.3" fill="#111"/>
<circle cx="288.42" cy="368.6" r="1.3" fill="#111"/>
<circle cx="291.1" cy="368.57" r="1.3" fill="#111"/>
<circle cx="293.9" cy="368.54" r="1.3" fill="#111"/>
<circle cx="287.02" cy="370.28" r="1.3" fill="#111"/>
<circle cx="290.02" cy="370.49" r="1.3" fill="#111"/>
<circle cx="292.25" cy="370.72" r="1.3" fill="#111"/>
<line x1="167" y1="357" x2="180.9" y2="357" stroke="#111" stroke-width="1.5"/>
<text x="167.3" y="358.2" font-size="14" fill="#111" letter-spacing="1.4" style="stroke-width:0.5px">**</text>
<line x1="203" y1="309.6" x2="216.7" y2="309.6" stroke="#111" stroke-width="1.5"/>
<text x="203.4" y="306.5" font-size="11" fill="#111" >ns</text>
<line x1="239.4" y1="350.6" x2="253" y2="350.6" stroke="#111" stroke-width="1.5"/>
<text x="239.5" y="352.5" font-size="14" fill="#111" letter-spacing="1.4" style="stroke-width:0.5px">**</text>
<line x1="276.5" y1="337.9" x2="289.9" y2="337.9" stroke="#111" stroke-width="1.5"/>
<text x="276.9" y="339.9" font-size="14" fill="#111" letter-spacing="1.4" style="stroke-width:0.5px">**</text>
<text x="173" y="416.2" font-size="10.5" text-anchor="middle" fill="#111" >P</text>
<text x="209.5" y="416.2" font-size="10.5" text-anchor="middle" fill="#111" >PQ</text>
<text x="250.4" y="416.2" font-size="10.5" text-anchor="middle" fill="#111" >QRS</text>
<text x="281.4" y="416.2" font-size="10.5" text-anchor="middle" fill="#111" >QT</text>
<text x="112" y="416.2" font-size="10.5" fill="#111" ></text>
<text x="311.6" y="302.3" font-size="15" fill="#111" >G</text>
<line x1="356.2" y1="308.8" x2="356.2" y2="400.8" stroke="#6b6b6b" stroke-width="1"/>
<line x1="353.8" y1="308.7" x2="356.2" y2="308.7" stroke="#6b6b6b" stroke-width="1"/>
<text x="351.9" y="313.5" font-size="10.5" text-anchor="end" fill="#111" >200</text>
<line x1="353.8" y1="331.73" x2="356.2" y2="331.73" stroke="#6b6b6b" stroke-width="1"/>
<text x="351.9" y="336.53" font-size="10.5" text-anchor="end" fill="#111" >150</text>
<line x1="353.8" y1="354.75" x2="356.2" y2="354.75" stroke="#6b6b6b" stroke-width="1"/>
<text x="351.9" y="359.55" font-size="10.5" text-anchor="end" fill="#111" >100</text>
<line x1="353.8" y1="377.78" x2="356.2" y2="377.78" stroke="#6b6b6b" stroke-width="1"/>
<text x="351.9" y="382.58" font-size="10.5" text-anchor="end" fill="#111" >50</text>
<line x1="353.8" y1="400.8" x2="356.2" y2="400.8" stroke="#6b6b6b" stroke-width="1"/>
<text x="351.9" y="405.6" font-size="10.5" text-anchor="end" fill="#111" >0</text>
<line x1="356.2" y1="400.8" x2="407.1" y2="400.8" stroke="#6b6b6b" stroke-width="1"/>
<text transform="translate(330,353.4) rotate(-90)" font-size="10.8" text-anchor="middle" fill="#111">LDH (U/ml)</text>
<rect x="364.3" y="337" width="16" height="63.8" fill="#fff" stroke="#777" stroke-width="1"/>
<clipPath id="c6"><rect x="388.7" y="321.3" width="16" height="79.5"/></clipPath>
<rect x="388.7" y="321.3" width="16" height="79.5" fill="#fff"/>
<path d="M388.7,321.3 L404.7,305.3 M388.7,323.05 L404.7,307.05 M388.7,324.8 L404.7,308.8 M388.7,326.55 L404.7,310.55 M388.7,328.3 L404.7,312.3 M388.7,330.05 L404.7,314.05 M388.7,331.8 L404.7,315.8 M388.7,333.55 L404.7,317.55 M388.7,335.3 L404.7,319.3 M388.7,337.05 L404.7,321.05 M388.7,338.8 L404.7,322.8 M388.7,340.55 L404.7,324.55 M388.7,342.3 L404.7,326.3 M388.7,344.05 L404.7,328.05 M388.7,345.8 L404.7,329.8 M388.7,347.55 L404.7,331.55 M388.7,349.3 L404.7,333.3 M388.7,351.05 L404.7,335.05 M388.7,352.8 L404.7,336.8 M388.7,354.55 L404.7,338.55 M388.7,356.3 L404.7,340.3 M388.7,358.05 L404.7,342.05 M388.7,359.8 L404.7,343.8 M388.7,361.55 L404.7,345.55 M388.7,363.3 L404.7,347.3 M388.7,365.05 L404.7,349.05 M388.7,366.8 L404.7,350.8 M388.7,368.55 L404.7,352.55 M388.7,370.3 L404.7,354.3 M388.7,372.05 L404.7,356.05 M388.7,373.8 L404.7,357.8 M388.7,375.55 L404.7,359.55 M388.7,377.3 L404.7,361.3 M388.7,379.05 L404.7,363.05 M388.7,380.8 L404.7,364.8 M388.7,382.55 L404.7,366.55 M388.7,384.3 L404.7,368.3 M388.7,386.05 L404.7,370.05 M388.7,387.8 L404.7,371.8 M388.7,389.55 L404.7,373.55 M388.7,391.3 L404.7,375.3 M388.7,393.05 L404.7,377.05 M388.7,394.8 L404.7,378.8 M388.7,396.55 L404.7,380.55 M388.7,398.3 L404.7,382.3 M388.7,400.05 L404.7,384.05 M388.7,401.8 L404.7,385.8 M388.7,403.55 L404.7,387.55 M388.7,405.3 L404.7,389.3 M388.7,407.05 L404.7,391.05 M388.7,408.8 L404.7,392.8 M388.7,410.55 L404.7,394.55 M388.7,412.3 L404.7,396.3 M388.7,414.05 L404.7,398.05 M388.7,415.8 L404.7,399.8 M388.7,417.55 L404.7,401.55" stroke="#555" stroke-width="0.6" clip-path="url(#c6)"/>
<rect x="388.7" y="321.3" width="16" height="79.5" fill="none" stroke="#555" stroke-width="1"/>
<line x1="372.6" y1="331.5" x2="372.6" y2="342.5" stroke="#111" stroke-width="0.8"/>
<line x1="372.59" y1="331.5" x2="372.61" y2="331.5" stroke="#111" stroke-width="0.8"/>
<line x1="396.7" y1="314.7" x2="396.7" y2="328" stroke="#111" stroke-width="0.8"/>
<line x1="390.3" y1="314.7" x2="403.1" y2="314.7" stroke="#111" stroke-width="0.8"/>
<circle cx="366.4" cy="332.8" r="1.85" fill="#fff" stroke="#111" stroke-width="0.95"/>
<circle cx="372.6" cy="331.7" r="1.85" fill="#fff" stroke="#111" stroke-width="0.95"/>
<circle cx="378.9" cy="334.6" r="1.85" fill="#fff" stroke="#111" stroke-width="0.95"/>
<circle cx="372.6" cy="339.4" r="1.85" fill="#fff" stroke="#111" stroke-width="0.95"/>
<circle cx="378.9" cy="340.2" r="1.85" fill="#fff" stroke="#111" stroke-width="0.95"/>
<circle cx="366.6" cy="343.1" r="1.85" fill="#fff" stroke="#111" stroke-width="0.95"/>
<circle cx="390.3" cy="314.9" r="1.9" fill="#111"/>
<circle cx="396.7" cy="316.2" r="1.9" fill="#111"/>
<circle cx="403.1" cy="314.9" r="1.9" fill="#111"/>
<circle cx="390.6" cy="327.4" r="1.9" fill="#111"/>
<circle cx="396.7" cy="326.6" r="1.9" fill="#111"/>
<circle cx="403.1" cy="327.4" r="1.9" fill="#111"/>
<line x1="371.9" y1="310.6" x2="396" y2="310.6" stroke="#111" stroke-width="1.3"/>
<text x="374.5" y="312.7" font-size="14" fill="#111" letter-spacing="1.6" style="stroke-width:0.5px">***</text>
<text x="363.4" y="416.5" font-size="10.5" fill="#111" >WT</text>
<text x="384.2" y="416.5" font-size="10.6" fill="#111" >αMHC-Cre</text>
<text x="426.6" y="302.3" font-size="15" fill="#111" >H</text>
<line x1="466.8" y1="308.8" x2="466.8" y2="400.2" stroke="#6b6b6b" stroke-width="1"/>
<line x1="464.4" y1="309.1" x2="466.8" y2="309.1" stroke="#6b6b6b" stroke-width="1"/>
<text x="462.8" y="313.6" font-size="10.5" text-anchor="end" fill="#111" >100</text>
<line x1="464.4" y1="327.32" x2="466.8" y2="327.32" stroke="#6b6b6b" stroke-width="1"/>
<text x="462.8" y="331.82" font-size="10.5" text-anchor="end" fill="#111" >80</text>
<line x1="464.4" y1="345.54" x2="466.8" y2="345.54" stroke="#6b6b6b" stroke-width="1"/>
<text x="462.8" y="350.04" font-size="10.5" text-anchor="end" fill="#111" >60</text>
<line x1="464.4" y1="363.76" x2="466.8" y2="363.76" stroke="#6b6b6b" stroke-width="1"/>
<text x="462.8" y="368.26" font-size="10.5" text-anchor="end" fill="#111" >40</text>
<line x1="464.4" y1="381.98" x2="466.8" y2="381.98" stroke="#6b6b6b" stroke-width="1"/>
<text x="462.8" y="386.48" font-size="10.5" text-anchor="end" fill="#111" >20</text>
<line x1="464.4" y1="400.2" x2="466.8" y2="400.2" stroke="#6b6b6b" stroke-width="1"/>
<text x="462.8" y="404.7" font-size="10.5" text-anchor="end" fill="#111" >0</text>
<line x1="466.8" y1="400.2" x2="523.9" y2="400.2" stroke="#6b6b6b" stroke-width="1"/>
<text transform="translate(443.8,357.8) rotate(-90)" font-size="10.8" text-anchor="middle" fill="#111">CK-MB (ng/ml)</text>
<rect x="475.1" y="367" width="16.1" height="33.2" fill="#fff" stroke="#777" stroke-width="1"/>
<clipPath id="c7"><rect x="499.4" y="326.7" width="15.7" height="73.5"/></clipPath>
<rect x="499.4" y="326.7" width="15.7" height="73.5" fill="#fff"/>
<path d="M499.4,326.7 L515.1,311 M499.4,328.45 L515.1,312.75 M499.4,330.2 L515.1,314.5 M499.4,331.95 L515.1,316.25 M499.4,333.7 L515.1,318 M499.4,335.45 L515.1,319.75 M499.4,337.2 L515.1,321.5 M499.4,338.95 L515.1,323.25 M499.4,340.7 L515.1,325 M499.4,342.45 L515.1,326.75 M499.4,344.2 L515.1,328.5 M499.4,345.95 L515.1,330.25 M499.4,347.7 L515.1,332 M499.4,349.45 L515.1,333.75 M499.4,351.2 L515.1,335.5 M499.4,352.95 L515.1,337.25 M499.4,354.7 L515.1,339 M499.4,356.45 L515.1,340.75 M499.4,358.2 L515.1,342.5 M499.4,359.95 L515.1,344.25 M499.4,361.7 L515.1,346 M499.4,363.45 L515.1,347.75 M499.4,365.2 L515.1,349.5 M499.4,366.95 L515.1,351.25 M499.4,368.7 L515.1,353 M499.4,370.45 L515.1,354.75 M499.4,372.2 L515.1,356.5 M499.4,373.95 L515.1,358.25 M499.4,375.7 L515.1,360 M499.4,377.45 L515.1,361.75 M499.4,379.2 L515.1,363.5 M499.4,380.95 L515.1,365.25 M499.4,382.7 L515.1,367 M499.4,384.45 L515.1,368.75 M499.4,386.2 L515.1,370.5 M499.4,387.95 L515.1,372.25 M499.4,389.7 L515.1,374 M499.4,391.45 L515.1,375.75 M499.4,393.2 L515.1,377.5 M499.4,394.95 L515.1,379.25 M499.4,396.7 L515.1,381 M499.4,398.45 L515.1,382.75 M499.4,400.2 L515.1,384.5 M499.4,401.95 L515.1,386.25 M499.4,403.7 L515.1,388 M499.4,405.45 L515.1,389.75 M499.4,407.2 L515.1,391.5 M499.4,408.95 L515.1,393.25 M499.4,410.7 L515.1,395 M499.4,412.45 L515.1,396.75 M499.4,414.2 L515.1,398.5 M499.4,415.95 L515.1,400.25" stroke="#555" stroke-width="0.6" clip-path="url(#c7)"/>
<rect x="499.4" y="326.7" width="15.7" height="73.5" fill="none" stroke="#555" stroke-width="1"/>
<line x1="483.2" y1="364.5" x2="483.2" y2="369" stroke="#111" stroke-width="0.9"/>
<line x1="480.2" y1="364.5" x2="486.2" y2="364.5" stroke="#111" stroke-width="0.9"/>
<line x1="507.3" y1="321.5" x2="507.3" y2="331" stroke="#111" stroke-width="0.9"/>
<line x1="502.3" y1="321.5" x2="512.3" y2="321.5" stroke="#111" stroke-width="0.9"/>
<circle cx="477" cy="367.1" r="1.75" fill="#fff" stroke="#111" stroke-width="0.95"/>
<circle cx="480.3" cy="364.3" r="1.75" fill="#fff" stroke="#111" stroke-width="0.95"/>
<circle cx="483.2" cy="366.6" r="1.75" fill="#fff" stroke="#111" stroke-width="0.95"/>
<circle cx="486.2" cy="361.6" r="1.75" fill="#fff" stroke="#111" stroke-width="0.95"/>
<circle cx="486.2" cy="367.1" r="1.75" fill="#fff" stroke="#111" stroke-width="0.95"/>
<circle cx="489.5" cy="367.1" r="1.75" fill="#fff" stroke="#111" stroke-width="0.95"/>
<circle cx="501.1" cy="323.5" r="1.9" fill="#111"/>
<circle cx="507.3" cy="321.2" r="1.9" fill="#111"/>
<circle cx="513.4" cy="323.2" r="1.9" fill="#111"/>
<circle cx="513.4" cy="326.9" r="1.9" fill="#111"/>
<circle cx="507.3" cy="329.5" r="1.9" fill="#111"/>
<circle cx="507.3" cy="334.5" r="1.9" fill="#111"/>
<line x1="481.8" y1="315.1" x2="505.6" y2="315.1" stroke="#111" stroke-width="1.3"/>
<text x="484.8" y="317" font-size="14" fill="#111" letter-spacing="1.6" style="stroke-width:0.5px">***</text>
<text x="474.9" y="416.5" font-size="10.3" fill="#111" >WT</text>
<text x="495.9" y="416.5" font-size="10.5" fill="#111" >αMHC-Cre</text>
</svg>
</body></html>
